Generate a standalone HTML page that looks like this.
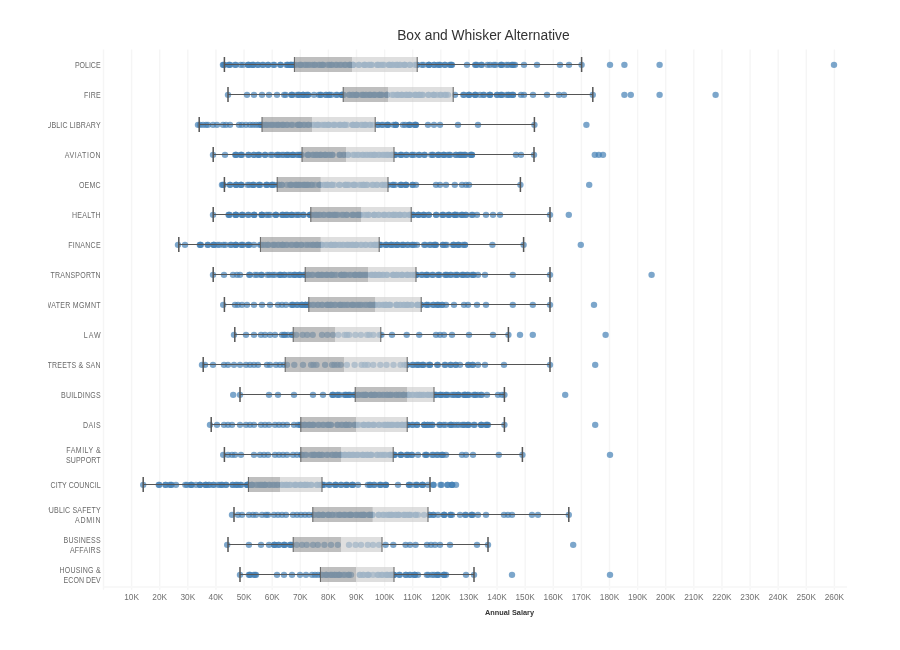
<!DOCTYPE html>
<html><head><meta charset="utf-8"><style>
html,body{margin:0;padding:0;background:#fff;width:900px;height:650px;overflow:hidden}
svg{display:block;will-change:transform}
text{font-family:"Liberation Sans",sans-serif}
.tk{font-size:8.3px;fill:#707070;text-anchor:middle}
.lb{font-size:8.8px;fill:#6a6a6a;text-anchor:end}
.wl{stroke:#555;stroke-width:1.2}
.cap{stroke:#555;stroke-width:1.5}
.be{stroke:#5e5e5e;stroke-width:1}
.ttl{font-size:13.8px;fill:#333}
.ax{font-size:8px;fill:#333;font-weight:bold}
</style></head><body>
<svg width="900" height="650" viewBox="0 0 900 650">
<defs><clipPath id="lc"><rect x="48" y="0" width="60" height="650"/></clipPath></defs>
<text x="483.4" y="40.1" class="ttl" text-anchor="middle">Box and Whisker Alternative</text>
<text x="509.5" y="614.7" class="ax" text-anchor="middle" textLength="49" lengthAdjust="spacingAndGlyphs">Annual Salary</text>
<g clip-path="url(#lc)"><g transform="translate(100.6,0) scale(0.8,1)"><text x="0" y="67.6" class="lb" textLength="32.12" lengthAdjust="spacing">POLICE</text><text x="0" y="97.6" class="lb" textLength="20.75" lengthAdjust="spacing">FIRE</text><text x="0" y="127.6" class="lb" textLength="74.12" lengthAdjust="spacing">PUBLIC LIBRARY</text><text x="0" y="157.6" class="lb" textLength="44.75" lengthAdjust="spacing">AVIATION</text><text x="0" y="187.6" class="lb" textLength="27.13" lengthAdjust="spacing">OEMC</text><text x="0" y="217.6" class="lb" textLength="35.88" lengthAdjust="spacing">HEALTH</text><text x="0" y="247.6" class="lb" textLength="40.5" lengthAdjust="spacing">FINANCE</text><text x="0" y="277.6" class="lb" textLength="62.62" lengthAdjust="spacing">TRANSPORTN</text><text x="0" y="307.6" class="lb" textLength="70.12" lengthAdjust="spacing">WATER MGMNT</text><text x="0" y="337.6" class="lb" textLength="21" lengthAdjust="spacing">LAW</text><text x="0" y="367.6" class="lb" textLength="72.62" lengthAdjust="spacing">STREETS &amp; SAN</text><text x="0" y="397.6" class="lb" textLength="49.5" lengthAdjust="spacing">BUILDINGS</text><text x="0" y="427.6" class="lb" textLength="22" lengthAdjust="spacing">DAIS</text><text x="0" y="453" class="lb" textLength="42.88" lengthAdjust="spacing">FAMILY &amp;</text><text x="0" y="463" class="lb" textLength="43.25" lengthAdjust="spacing">SUPPORT</text><text x="0" y="487.6" class="lb" textLength="62.62" lengthAdjust="spacing">CITY COUNCIL</text><text x="0" y="513" class="lb" textLength="70.75" lengthAdjust="spacing">PUBLIC SAFETY</text><text x="0" y="523" class="lb" textLength="31.88" lengthAdjust="spacing">ADMIN</text><text x="0" y="543" class="lb" textLength="46.25" lengthAdjust="spacing">BUSINESS</text><text x="0" y="553" class="lb" textLength="38.38" lengthAdjust="spacing">AFFAIRS</text><text x="0" y="573" class="lb" textLength="51.5" lengthAdjust="spacing">HOUSING &amp;</text><text x="0" y="583" class="lb" textLength="46.25" lengthAdjust="spacing">ECON DEV</text></g></g>
<line x1="103.5" y1="49.5" x2="103.5" y2="589.7" stroke="#f5f5f5" stroke-width="1.4"/>
<line x1="131.61" y1="49.5" x2="131.61" y2="589.7" stroke="#f5f5f5" stroke-width="1.4"/>
<line x1="159.72" y1="49.5" x2="159.72" y2="589.7" stroke="#f5f5f5" stroke-width="1.4"/>
<line x1="187.83" y1="49.5" x2="187.83" y2="589.7" stroke="#f5f5f5" stroke-width="1.4"/>
<line x1="215.95" y1="49.5" x2="215.95" y2="589.7" stroke="#f5f5f5" stroke-width="1.4"/>
<line x1="244.06" y1="49.5" x2="244.06" y2="589.7" stroke="#f5f5f5" stroke-width="1.4"/>
<line x1="272.17" y1="49.5" x2="272.17" y2="589.7" stroke="#f5f5f5" stroke-width="1.4"/>
<line x1="300.28" y1="49.5" x2="300.28" y2="589.7" stroke="#f5f5f5" stroke-width="1.4"/>
<line x1="328.39" y1="49.5" x2="328.39" y2="589.7" stroke="#f5f5f5" stroke-width="1.4"/>
<line x1="356.5" y1="49.5" x2="356.5" y2="589.7" stroke="#f5f5f5" stroke-width="1.4"/>
<line x1="384.62" y1="49.5" x2="384.62" y2="589.7" stroke="#f5f5f5" stroke-width="1.4"/>
<line x1="412.73" y1="49.5" x2="412.73" y2="589.7" stroke="#f5f5f5" stroke-width="1.4"/>
<line x1="440.84" y1="49.5" x2="440.84" y2="589.7" stroke="#f5f5f5" stroke-width="1.4"/>
<line x1="468.95" y1="49.5" x2="468.95" y2="589.7" stroke="#f5f5f5" stroke-width="1.4"/>
<line x1="497.06" y1="49.5" x2="497.06" y2="589.7" stroke="#f5f5f5" stroke-width="1.4"/>
<line x1="525.17" y1="49.5" x2="525.17" y2="589.7" stroke="#f5f5f5" stroke-width="1.4"/>
<line x1="553.28" y1="49.5" x2="553.28" y2="589.7" stroke="#f5f5f5" stroke-width="1.4"/>
<line x1="581.4" y1="49.5" x2="581.4" y2="589.7" stroke="#f5f5f5" stroke-width="1.4"/>
<line x1="609.51" y1="49.5" x2="609.51" y2="589.7" stroke="#f5f5f5" stroke-width="1.4"/>
<line x1="637.62" y1="49.5" x2="637.62" y2="589.7" stroke="#f5f5f5" stroke-width="1.4"/>
<line x1="665.73" y1="49.5" x2="665.73" y2="589.7" stroke="#f5f5f5" stroke-width="1.4"/>
<line x1="693.84" y1="49.5" x2="693.84" y2="589.7" stroke="#f5f5f5" stroke-width="1.4"/>
<line x1="721.95" y1="49.5" x2="721.95" y2="589.7" stroke="#f5f5f5" stroke-width="1.4"/>
<line x1="750.07" y1="49.5" x2="750.07" y2="589.7" stroke="#f5f5f5" stroke-width="1.4"/>
<line x1="778.18" y1="49.5" x2="778.18" y2="589.7" stroke="#f5f5f5" stroke-width="1.4"/>
<line x1="806.29" y1="49.5" x2="806.29" y2="589.7" stroke="#f5f5f5" stroke-width="1.4"/>
<line x1="834.4" y1="49.5" x2="834.4" y2="589.7" stroke="#f5f5f5" stroke-width="1.4"/>
<line x1="103.5" y1="586.9" x2="846.9" y2="586.9" stroke="#f8f8f8" stroke-width="2"/>
<text x="131.61" y="600.3" class="tk">10K</text>
<text x="159.72" y="600.3" class="tk">20K</text>
<text x="187.83" y="600.3" class="tk">30K</text>
<text x="215.95" y="600.3" class="tk">40K</text>
<text x="244.06" y="600.3" class="tk">50K</text>
<text x="272.17" y="600.3" class="tk">60K</text>
<text x="300.28" y="600.3" class="tk">70K</text>
<text x="328.39" y="600.3" class="tk">80K</text>
<text x="356.5" y="600.3" class="tk">90K</text>
<text x="384.62" y="600.3" class="tk">100K</text>
<text x="412.73" y="600.3" class="tk">110K</text>
<text x="440.84" y="600.3" class="tk">120K</text>
<text x="468.95" y="600.3" class="tk">130K</text>
<text x="497.06" y="600.3" class="tk">140K</text>
<text x="525.17" y="600.3" class="tk">150K</text>
<text x="553.28" y="600.3" class="tk">160K</text>
<text x="581.4" y="600.3" class="tk">170K</text>
<text x="609.51" y="600.3" class="tk">180K</text>
<text x="637.62" y="600.3" class="tk">190K</text>
<text x="665.73" y="600.3" class="tk">200K</text>
<text x="693.84" y="600.3" class="tk">210K</text>
<text x="721.95" y="600.3" class="tk">220K</text>
<text x="750.07" y="600.3" class="tk">230K</text>
<text x="778.18" y="600.3" class="tk">240K</text>
<text x="806.29" y="600.3" class="tk">250K</text>
<text x="834.4" y="600.3" class="tk">260K</text>
<g fill="#4580b5" fill-opacity="0.7"><circle cx="467" cy="64.85" r="3.2"/><circle cx="524" cy="64.85" r="3.2"/><circle cx="537" cy="64.85" r="3.2"/><circle cx="560" cy="64.85" r="3.2"/><circle cx="569" cy="64.85" r="3.2"/><circle cx="581.6" cy="64.85" r="3.2"/><circle cx="610" cy="64.85" r="3.2"/><circle cx="624.4" cy="64.85" r="3.2"/><circle cx="659.6" cy="64.85" r="3.2"/><circle cx="834" cy="64.85" r="3.2"/><circle cx="224.44" cy="64.85" r="3.2"/><circle cx="222.96" cy="64.85" r="3.2"/><circle cx="223.62" cy="64.85" r="3.2"/><circle cx="228.71" cy="64.85" r="3.2"/><circle cx="230.12" cy="64.85" r="3.2"/><circle cx="229.32" cy="64.85" r="3.2"/><circle cx="235.86" cy="64.85" r="3.2"/><circle cx="235.04" cy="64.85" r="3.2"/><circle cx="240.69" cy="64.85" r="3.2"/><circle cx="243.12" cy="64.85" r="3.2"/><circle cx="248.88" cy="64.85" r="3.2"/><circle cx="248.15" cy="64.85" r="3.2"/><circle cx="248.1" cy="64.85" r="3.2"/><circle cx="253.17" cy="64.85" r="3.2"/><circle cx="253.31" cy="64.85" r="3.2"/><circle cx="251.88" cy="64.85" r="3.2"/><circle cx="257.83" cy="64.85" r="3.2"/><circle cx="257.91" cy="64.85" r="3.2"/><circle cx="263.33" cy="64.85" r="3.2"/><circle cx="262.34" cy="64.85" r="3.2"/><circle cx="267.97" cy="64.85" r="3.2"/><circle cx="268.23" cy="64.85" r="3.2"/><circle cx="273.37" cy="64.85" r="3.2"/><circle cx="274.38" cy="64.85" r="3.2"/><circle cx="280.27" cy="64.85" r="3.2"/><circle cx="280.7" cy="64.85" r="3.2"/><circle cx="286.44" cy="64.85" r="3.2"/><circle cx="287.69" cy="64.85" r="3.2"/><circle cx="287.7" cy="64.85" r="3.2"/><circle cx="291.55" cy="64.85" r="3.2"/><circle cx="290.05" cy="64.85" r="3.2"/><circle cx="290.61" cy="64.85" r="3.2"/><circle cx="292" cy="64.85" r="3.2"/><circle cx="294.03" cy="64.85" r="3.2"/><circle cx="296.26" cy="64.85" r="3.2"/><circle cx="294.05" cy="64.85" r="3.2"/><circle cx="301.04" cy="64.85" r="3.2"/><circle cx="299.57" cy="64.85" r="3.2"/><circle cx="300.67" cy="64.85" r="3.2"/><circle cx="305.93" cy="64.85" r="3.2"/><circle cx="304.63" cy="64.85" r="3.2"/><circle cx="309.66" cy="64.85" r="3.2"/><circle cx="307.86" cy="64.85" r="3.2"/><circle cx="314.6" cy="64.85" r="3.2"/><circle cx="312.54" cy="64.85" r="3.2"/><circle cx="314.81" cy="64.85" r="3.2"/><circle cx="318.7" cy="64.85" r="3.2"/><circle cx="319.9" cy="64.85" r="3.2"/><circle cx="323.22" cy="64.85" r="3.2"/><circle cx="321.93" cy="64.85" r="3.2"/><circle cx="322.64" cy="64.85" r="3.2"/><circle cx="329.4" cy="64.85" r="3.2"/><circle cx="327.68" cy="64.85" r="3.2"/><circle cx="331.6" cy="64.85" r="3.2"/><circle cx="331.69" cy="64.85" r="3.2"/><circle cx="336.83" cy="64.85" r="3.2"/><circle cx="335.65" cy="64.85" r="3.2"/><circle cx="339.72" cy="64.85" r="3.2"/><circle cx="341.3" cy="64.85" r="3.2"/><circle cx="344.87" cy="64.85" r="3.2"/><circle cx="345.38" cy="64.85" r="3.2"/><circle cx="350.19" cy="64.85" r="3.2"/><circle cx="350.21" cy="64.85" r="3.2"/><circle cx="349.22" cy="64.85" r="3.2"/><circle cx="352.99" cy="64.85" r="3.2"/><circle cx="352.83" cy="64.85" r="3.2"/><circle cx="353.08" cy="64.85" r="3.2"/><circle cx="358.62" cy="64.85" r="3.2"/><circle cx="359.13" cy="64.85" r="3.2"/><circle cx="365" cy="64.85" r="3.2"/><circle cx="363.99" cy="64.85" r="3.2"/><circle cx="364.72" cy="64.85" r="3.2"/><circle cx="369.86" cy="64.85" r="3.2"/><circle cx="368.52" cy="64.85" r="3.2"/><circle cx="371.38" cy="64.85" r="3.2"/><circle cx="371.6" cy="64.85" r="3.2"/><circle cx="377.14" cy="64.85" r="3.2"/><circle cx="378.72" cy="64.85" r="3.2"/><circle cx="377.47" cy="64.85" r="3.2"/><circle cx="381" cy="64.85" r="3.2"/><circle cx="382.8" cy="64.85" r="3.2"/><circle cx="384" cy="64.85" r="3.2"/><circle cx="389.03" cy="64.85" r="3.2"/><circle cx="388.95" cy="64.85" r="3.2"/><circle cx="390" cy="64.85" r="3.2"/><circle cx="392.27" cy="64.85" r="3.2"/><circle cx="392.93" cy="64.85" r="3.2"/><circle cx="395.7" cy="64.85" r="3.2"/><circle cx="397.25" cy="64.85" r="3.2"/><circle cx="397.33" cy="64.85" r="3.2"/><circle cx="399.83" cy="64.85" r="3.2"/><circle cx="400.11" cy="64.85" r="3.2"/><circle cx="404.47" cy="64.85" r="3.2"/><circle cx="404.83" cy="64.85" r="3.2"/><circle cx="404.48" cy="64.85" r="3.2"/><circle cx="410.14" cy="64.85" r="3.2"/><circle cx="409.59" cy="64.85" r="3.2"/><circle cx="415" cy="64.85" r="3.2"/><circle cx="416.6" cy="64.85" r="3.2"/><circle cx="417.11" cy="64.85" r="3.2"/><circle cx="423.47" cy="64.85" r="3.2"/><circle cx="421.88" cy="64.85" r="3.2"/><circle cx="429.02" cy="64.85" r="3.2"/><circle cx="429" cy="64.85" r="3.2"/><circle cx="428.61" cy="64.85" r="3.2"/><circle cx="434.18" cy="64.85" r="3.2"/><circle cx="434.1" cy="64.85" r="3.2"/><circle cx="440.16" cy="64.85" r="3.2"/><circle cx="439.42" cy="64.85" r="3.2"/><circle cx="437.88" cy="64.85" r="3.2"/><circle cx="445" cy="64.85" r="3.2"/><circle cx="444.8" cy="64.85" r="3.2"/><circle cx="450.88" cy="64.85" r="3.2"/><circle cx="449.69" cy="64.85" r="3.2"/><circle cx="451.31" cy="64.85" r="3.2"/><circle cx="452" cy="64.85" r="3.2"/><circle cx="475.86" cy="64.85" r="3.2"/><circle cx="475.19" cy="64.85" r="3.2"/><circle cx="476.95" cy="64.85" r="3.2"/><circle cx="481.23" cy="64.85" r="3.2"/><circle cx="481.76" cy="64.85" r="3.2"/><circle cx="487.56" cy="64.85" r="3.2"/><circle cx="490.05" cy="64.85" r="3.2"/><circle cx="495.66" cy="64.85" r="3.2"/><circle cx="493.89" cy="64.85" r="3.2"/><circle cx="500.67" cy="64.85" r="3.2"/><circle cx="501.7" cy="64.85" r="3.2"/><circle cx="501.7" cy="64.85" r="3.2"/><circle cx="506.43" cy="64.85" r="3.2"/><circle cx="508.39" cy="64.85" r="3.2"/><circle cx="512.31" cy="64.85" r="3.2"/><circle cx="513.6" cy="64.85" r="3.2"/><circle cx="511.94" cy="64.85" r="3.2"/><circle cx="515" cy="64.85" r="3.2"/></g>
<line x1="224.4" y1="64.5" x2="294.4" y2="64.5" class="wl"/>
<line x1="417.2" y1="64.5" x2="581.6" y2="64.5" class="wl"/>
<line x1="224.4" y1="57" x2="224.4" y2="72" class="cap"/>
<line x1="581.6" y1="57" x2="581.6" y2="72" class="cap"/>
<rect x="294.4" y="57" width="57.6" height="15" fill="#999" fill-opacity="0.63"/>
<rect x="352" y="57" width="65.2" height="15" fill="#cfcfcf" fill-opacity="0.66"/>
<line x1="294.4" y1="57" x2="294.4" y2="72" class="be"/>
<line x1="417.2" y1="57" x2="417.2" y2="72" class="be"/>
<g fill="#4580b5" fill-opacity="0.7"><circle cx="228" cy="94.85" r="3.2"/><circle cx="247" cy="94.85" r="3.2"/><circle cx="254" cy="94.85" r="3.2"/><circle cx="262" cy="94.85" r="3.2"/><circle cx="269" cy="94.85" r="3.2"/><circle cx="277" cy="94.85" r="3.2"/><circle cx="314" cy="94.85" r="3.2"/><circle cx="455" cy="94.85" r="3.2"/><circle cx="521" cy="94.85" r="3.2"/><circle cx="524" cy="94.85" r="3.2"/><circle cx="533" cy="94.85" r="3.2"/><circle cx="547" cy="94.85" r="3.2"/><circle cx="559" cy="94.85" r="3.2"/><circle cx="564" cy="94.85" r="3.2"/><circle cx="592.8" cy="94.85" r="3.2"/><circle cx="624.4" cy="94.85" r="3.2"/><circle cx="630.8" cy="94.85" r="3.2"/><circle cx="659.6" cy="94.85" r="3.2"/><circle cx="715.6" cy="94.85" r="3.2"/><circle cx="285.68" cy="94.85" r="3.2"/><circle cx="284.21" cy="94.85" r="3.2"/><circle cx="292.61" cy="94.85" r="3.2"/><circle cx="291.62" cy="94.85" r="3.2"/><circle cx="291.54" cy="94.85" r="3.2"/><circle cx="298.72" cy="94.85" r="3.2"/><circle cx="297.2" cy="94.85" r="3.2"/><circle cx="298.97" cy="94.85" r="3.2"/><circle cx="303.12" cy="94.85" r="3.2"/><circle cx="302.97" cy="94.85" r="3.2"/><circle cx="303.18" cy="94.85" r="3.2"/><circle cx="306.28" cy="94.85" r="3.2"/><circle cx="308" cy="94.85" r="3.2"/><circle cx="308" cy="94.85" r="3.2"/><circle cx="320.49" cy="94.85" r="3.2"/><circle cx="318.96" cy="94.85" r="3.2"/><circle cx="320.99" cy="94.85" r="3.2"/><circle cx="325.7" cy="94.85" r="3.2"/><circle cx="326.35" cy="94.85" r="3.2"/><circle cx="329.44" cy="94.85" r="3.2"/><circle cx="329.1" cy="94.85" r="3.2"/><circle cx="331.28" cy="94.85" r="3.2"/><circle cx="336.16" cy="94.85" r="3.2"/><circle cx="337.19" cy="94.85" r="3.2"/><circle cx="341.77" cy="94.85" r="3.2"/><circle cx="342" cy="94.85" r="3.2"/><circle cx="342" cy="94.85" r="3.2"/><circle cx="342.85" cy="94.85" r="3.2"/><circle cx="343.83" cy="94.85" r="3.2"/><circle cx="349.65" cy="94.85" r="3.2"/><circle cx="349.24" cy="94.85" r="3.2"/><circle cx="352.41" cy="94.85" r="3.2"/><circle cx="353.34" cy="94.85" r="3.2"/><circle cx="356.38" cy="94.85" r="3.2"/><circle cx="356.57" cy="94.85" r="3.2"/><circle cx="356.55" cy="94.85" r="3.2"/><circle cx="361.36" cy="94.85" r="3.2"/><circle cx="363.27" cy="94.85" r="3.2"/><circle cx="362.91" cy="94.85" r="3.2"/><circle cx="365.51" cy="94.85" r="3.2"/><circle cx="366.41" cy="94.85" r="3.2"/><circle cx="369.07" cy="94.85" r="3.2"/><circle cx="370.38" cy="94.85" r="3.2"/><circle cx="370.16" cy="94.85" r="3.2"/><circle cx="373.89" cy="94.85" r="3.2"/><circle cx="375.58" cy="94.85" r="3.2"/><circle cx="374.1" cy="94.85" r="3.2"/><circle cx="379.35" cy="94.85" r="3.2"/><circle cx="379.64" cy="94.85" r="3.2"/><circle cx="379.88" cy="94.85" r="3.2"/><circle cx="381.46" cy="94.85" r="3.2"/><circle cx="381.83" cy="94.85" r="3.2"/><circle cx="386.84" cy="94.85" r="3.2"/><circle cx="386.97" cy="94.85" r="3.2"/><circle cx="386.92" cy="94.85" r="3.2"/><circle cx="393.63" cy="94.85" r="3.2"/><circle cx="392.07" cy="94.85" r="3.2"/><circle cx="397.81" cy="94.85" r="3.2"/><circle cx="397.93" cy="94.85" r="3.2"/><circle cx="396.75" cy="94.85" r="3.2"/><circle cx="402.08" cy="94.85" r="3.2"/><circle cx="401.35" cy="94.85" r="3.2"/><circle cx="401.77" cy="94.85" r="3.2"/><circle cx="406.32" cy="94.85" r="3.2"/><circle cx="405.67" cy="94.85" r="3.2"/><circle cx="407" cy="94.85" r="3.2"/><circle cx="409.09" cy="94.85" r="3.2"/><circle cx="410.25" cy="94.85" r="3.2"/><circle cx="409.56" cy="94.85" r="3.2"/><circle cx="414.84" cy="94.85" r="3.2"/><circle cx="415.32" cy="94.85" r="3.2"/><circle cx="416.09" cy="94.85" r="3.2"/><circle cx="418.89" cy="94.85" r="3.2"/><circle cx="419.21" cy="94.85" r="3.2"/><circle cx="420.02" cy="94.85" r="3.2"/><circle cx="422.84" cy="94.85" r="3.2"/><circle cx="422.03" cy="94.85" r="3.2"/><circle cx="428.57" cy="94.85" r="3.2"/><circle cx="428.54" cy="94.85" r="3.2"/><circle cx="433.5" cy="94.85" r="3.2"/><circle cx="433.95" cy="94.85" r="3.2"/><circle cx="433.63" cy="94.85" r="3.2"/><circle cx="437" cy="94.85" r="3.2"/><circle cx="441.04" cy="94.85" r="3.2"/><circle cx="440.2" cy="94.85" r="3.2"/><circle cx="445.84" cy="94.85" r="3.2"/><circle cx="444.52" cy="94.85" r="3.2"/><circle cx="448" cy="94.85" r="3.2"/><circle cx="464" cy="94.85" r="3.2"/><circle cx="463.29" cy="94.85" r="3.2"/><circle cx="468.69" cy="94.85" r="3.2"/><circle cx="469.46" cy="94.85" r="3.2"/><circle cx="468.86" cy="94.85" r="3.2"/><circle cx="475.11" cy="94.85" r="3.2"/><circle cx="475.65" cy="94.85" r="3.2"/><circle cx="474.96" cy="94.85" r="3.2"/><circle cx="480" cy="94.85" r="3.2"/><circle cx="483.27" cy="94.85" r="3.2"/><circle cx="484.08" cy="94.85" r="3.2"/><circle cx="490.34" cy="94.85" r="3.2"/><circle cx="489.75" cy="94.85" r="3.2"/><circle cx="489.55" cy="94.85" r="3.2"/><circle cx="497.13" cy="94.85" r="3.2"/><circle cx="497.1" cy="94.85" r="3.2"/><circle cx="500.69" cy="94.85" r="3.2"/><circle cx="502.1" cy="94.85" r="3.2"/><circle cx="501.43" cy="94.85" r="3.2"/><circle cx="508.81" cy="94.85" r="3.2"/><circle cx="506.63" cy="94.85" r="3.2"/><circle cx="508.25" cy="94.85" r="3.2"/><circle cx="512.98" cy="94.85" r="3.2"/><circle cx="511.49" cy="94.85" r="3.2"/><circle cx="513" cy="94.85" r="3.2"/></g>
<line x1="228" y1="94.5" x2="343.2" y2="94.5" class="wl"/>
<line x1="453.2" y1="94.5" x2="592.8" y2="94.5" class="wl"/>
<line x1="228" y1="87" x2="228" y2="102" class="cap"/>
<line x1="592.8" y1="87" x2="592.8" y2="102" class="cap"/>
<rect x="343.2" y="87" width="44.8" height="15" fill="#999" fill-opacity="0.63"/>
<rect x="388" y="87" width="65.2" height="15" fill="#cfcfcf" fill-opacity="0.66"/>
<line x1="343.2" y1="87" x2="343.2" y2="102" class="be"/>
<line x1="453.2" y1="87" x2="453.2" y2="102" class="be"/>
<g fill="#4580b5" fill-opacity="0.7"><circle cx="198" cy="124.85" r="3.2"/><circle cx="200" cy="124.85" r="3.2"/><circle cx="203" cy="124.85" r="3.2"/><circle cx="206" cy="124.85" r="3.2"/><circle cx="208" cy="124.85" r="3.2"/><circle cx="213" cy="124.85" r="3.2"/><circle cx="217" cy="124.85" r="3.2"/><circle cx="223" cy="124.85" r="3.2"/><circle cx="226" cy="124.85" r="3.2"/><circle cx="230" cy="124.85" r="3.2"/><circle cx="239" cy="124.85" r="3.2"/><circle cx="242" cy="124.85" r="3.2"/><circle cx="246" cy="124.85" r="3.2"/><circle cx="250" cy="124.85" r="3.2"/><circle cx="253" cy="124.85" r="3.2"/><circle cx="256" cy="124.85" r="3.2"/><circle cx="259" cy="124.85" r="3.2"/><circle cx="428" cy="124.85" r="3.2"/><circle cx="434" cy="124.85" r="3.2"/><circle cx="440" cy="124.85" r="3.2"/><circle cx="458" cy="124.85" r="3.2"/><circle cx="478" cy="124.85" r="3.2"/><circle cx="534.4" cy="124.85" r="3.2"/><circle cx="586.4" cy="124.85" r="3.2"/><circle cx="263.04" cy="124.85" r="3.2"/><circle cx="261.07" cy="124.85" r="3.2"/><circle cx="261.42" cy="124.85" r="3.2"/><circle cx="266.29" cy="124.85" r="3.2"/><circle cx="265.59" cy="124.85" r="3.2"/><circle cx="270.64" cy="124.85" r="3.2"/><circle cx="268.16" cy="124.85" r="3.2"/><circle cx="273.57" cy="124.85" r="3.2"/><circle cx="272.03" cy="124.85" r="3.2"/><circle cx="276.25" cy="124.85" r="3.2"/><circle cx="278.27" cy="124.85" r="3.2"/><circle cx="278.18" cy="124.85" r="3.2"/><circle cx="283.03" cy="124.85" r="3.2"/><circle cx="283.23" cy="124.85" r="3.2"/><circle cx="281.6" cy="124.85" r="3.2"/><circle cx="287.45" cy="124.85" r="3.2"/><circle cx="286.79" cy="124.85" r="3.2"/><circle cx="292.7" cy="124.85" r="3.2"/><circle cx="291.33" cy="124.85" r="3.2"/><circle cx="297.71" cy="124.85" r="3.2"/><circle cx="298.04" cy="124.85" r="3.2"/><circle cx="299.48" cy="124.85" r="3.2"/><circle cx="299.43" cy="124.85" r="3.2"/><circle cx="300.01" cy="124.85" r="3.2"/><circle cx="303.33" cy="124.85" r="3.2"/><circle cx="304.81" cy="124.85" r="3.2"/><circle cx="308.22" cy="124.85" r="3.2"/><circle cx="308.62" cy="124.85" r="3.2"/><circle cx="312.57" cy="124.85" r="3.2"/><circle cx="314.36" cy="124.85" r="3.2"/><circle cx="318.78" cy="124.85" r="3.2"/><circle cx="317.47" cy="124.85" r="3.2"/><circle cx="317.26" cy="124.85" r="3.2"/><circle cx="322" cy="124.85" r="3.2"/><circle cx="325.27" cy="124.85" r="3.2"/><circle cx="324.09" cy="124.85" r="3.2"/><circle cx="328.45" cy="124.85" r="3.2"/><circle cx="328.81" cy="124.85" r="3.2"/><circle cx="328.24" cy="124.85" r="3.2"/><circle cx="333.1" cy="124.85" r="3.2"/><circle cx="334.13" cy="124.85" r="3.2"/><circle cx="335" cy="124.85" r="3.2"/><circle cx="339.04" cy="124.85" r="3.2"/><circle cx="340.37" cy="124.85" r="3.2"/><circle cx="340.38" cy="124.85" r="3.2"/><circle cx="344.18" cy="124.85" r="3.2"/><circle cx="344.44" cy="124.85" r="3.2"/><circle cx="344.93" cy="124.85" r="3.2"/><circle cx="347" cy="124.85" r="3.2"/><circle cx="352.89" cy="124.85" r="3.2"/><circle cx="353.21" cy="124.85" r="3.2"/><circle cx="352.53" cy="124.85" r="3.2"/><circle cx="356.72" cy="124.85" r="3.2"/><circle cx="356.54" cy="124.85" r="3.2"/><circle cx="356.89" cy="124.85" r="3.2"/><circle cx="361.03" cy="124.85" r="3.2"/><circle cx="362.34" cy="124.85" r="3.2"/><circle cx="365.78" cy="124.85" r="3.2"/><circle cx="364.46" cy="124.85" r="3.2"/><circle cx="365.43" cy="124.85" r="3.2"/><circle cx="369.77" cy="124.85" r="3.2"/><circle cx="370.19" cy="124.85" r="3.2"/><circle cx="373" cy="124.85" r="3.2"/><circle cx="377.52" cy="124.85" r="3.2"/><circle cx="378.08" cy="124.85" r="3.2"/><circle cx="383" cy="124.85" r="3.2"/><circle cx="381.68" cy="124.85" r="3.2"/><circle cx="387.47" cy="124.85" r="3.2"/><circle cx="387.23" cy="124.85" r="3.2"/><circle cx="388.36" cy="124.85" r="3.2"/><circle cx="393.52" cy="124.85" r="3.2"/><circle cx="395.53" cy="124.85" r="3.2"/><circle cx="395.78" cy="124.85" r="3.2"/><circle cx="396" cy="124.85" r="3.2"/><circle cx="402.96" cy="124.85" r="3.2"/><circle cx="405.17" cy="124.85" r="3.2"/><circle cx="409.46" cy="124.85" r="3.2"/><circle cx="410.16" cy="124.85" r="3.2"/><circle cx="408.88" cy="124.85" r="3.2"/><circle cx="415.66" cy="124.85" r="3.2"/><circle cx="414.63" cy="124.85" r="3.2"/><circle cx="415.24" cy="124.85" r="3.2"/><circle cx="416" cy="124.85" r="3.2"/></g>
<line x1="199.2" y1="124.5" x2="262" y2="124.5" class="wl"/>
<line x1="375.2" y1="124.5" x2="534.4" y2="124.5" class="wl"/>
<line x1="199.2" y1="117" x2="199.2" y2="132" class="cap"/>
<line x1="534.4" y1="117" x2="534.4" y2="132" class="cap"/>
<rect x="262" y="117" width="50" height="15" fill="#999" fill-opacity="0.63"/>
<rect x="312" y="117" width="63.2" height="15" fill="#cfcfcf" fill-opacity="0.66"/>
<line x1="262" y1="117" x2="262" y2="132" class="be"/>
<line x1="375.2" y1="117" x2="375.2" y2="132" class="be"/>
<g fill="#4580b5" fill-opacity="0.7"><circle cx="213" cy="154.85" r="3.2"/><circle cx="225" cy="154.85" r="3.2"/><circle cx="516" cy="154.85" r="3.2"/><circle cx="521" cy="154.85" r="3.2"/><circle cx="534" cy="154.85" r="3.2"/><circle cx="594.8" cy="154.85" r="3.2"/><circle cx="598.8" cy="154.85" r="3.2"/><circle cx="603" cy="154.85" r="3.2"/><circle cx="236.15" cy="154.85" r="3.2"/><circle cx="235.28" cy="154.85" r="3.2"/><circle cx="235.9" cy="154.85" r="3.2"/><circle cx="240.62" cy="154.85" r="3.2"/><circle cx="241.42" cy="154.85" r="3.2"/><circle cx="241.78" cy="154.85" r="3.2"/><circle cx="248.51" cy="154.85" r="3.2"/><circle cx="248.45" cy="154.85" r="3.2"/><circle cx="253.8" cy="154.85" r="3.2"/><circle cx="253.9" cy="154.85" r="3.2"/><circle cx="258.59" cy="154.85" r="3.2"/><circle cx="259.45" cy="154.85" r="3.2"/><circle cx="258" cy="154.85" r="3.2"/><circle cx="264.88" cy="154.85" r="3.2"/><circle cx="265.29" cy="154.85" r="3.2"/><circle cx="270.6" cy="154.85" r="3.2"/><circle cx="272.27" cy="154.85" r="3.2"/><circle cx="277.52" cy="154.85" r="3.2"/><circle cx="278.93" cy="154.85" r="3.2"/><circle cx="277.06" cy="154.85" r="3.2"/><circle cx="283.65" cy="154.85" r="3.2"/><circle cx="282.03" cy="154.85" r="3.2"/><circle cx="287" cy="154.85" r="3.2"/><circle cx="288.76" cy="154.85" r="3.2"/><circle cx="287.05" cy="154.85" r="3.2"/><circle cx="292.26" cy="154.85" r="3.2"/><circle cx="293.2" cy="154.85" r="3.2"/><circle cx="293.01" cy="154.85" r="3.2"/><circle cx="298.41" cy="154.85" r="3.2"/><circle cx="297.09" cy="154.85" r="3.2"/><circle cx="300" cy="154.85" r="3.2"/><circle cx="300.87" cy="154.85" r="3.2"/><circle cx="301.82" cy="154.85" r="3.2"/><circle cx="308.1" cy="154.85" r="3.2"/><circle cx="308.47" cy="154.85" r="3.2"/><circle cx="307.73" cy="154.85" r="3.2"/><circle cx="313.33" cy="154.85" r="3.2"/><circle cx="312.78" cy="154.85" r="3.2"/><circle cx="317.57" cy="154.85" r="3.2"/><circle cx="316.6" cy="154.85" r="3.2"/><circle cx="315.58" cy="154.85" r="3.2"/><circle cx="320.87" cy="154.85" r="3.2"/><circle cx="321.03" cy="154.85" r="3.2"/><circle cx="320.02" cy="154.85" r="3.2"/><circle cx="325.65" cy="154.85" r="3.2"/><circle cx="325" cy="154.85" r="3.2"/><circle cx="324.95" cy="154.85" r="3.2"/><circle cx="329.9" cy="154.85" r="3.2"/><circle cx="328.6" cy="154.85" r="3.2"/><circle cx="332.4" cy="154.85" r="3.2"/><circle cx="332.33" cy="154.85" r="3.2"/><circle cx="339.93" cy="154.85" r="3.2"/><circle cx="339.54" cy="154.85" r="3.2"/><circle cx="343.31" cy="154.85" r="3.2"/><circle cx="344.39" cy="154.85" r="3.2"/><circle cx="348.2" cy="154.85" r="3.2"/><circle cx="347.67" cy="154.85" r="3.2"/><circle cx="354.58" cy="154.85" r="3.2"/><circle cx="353.08" cy="154.85" r="3.2"/><circle cx="358.8" cy="154.85" r="3.2"/><circle cx="357.3" cy="154.85" r="3.2"/><circle cx="363.08" cy="154.85" r="3.2"/><circle cx="362.38" cy="154.85" r="3.2"/><circle cx="365.88" cy="154.85" r="3.2"/><circle cx="367.41" cy="154.85" r="3.2"/><circle cx="369.89" cy="154.85" r="3.2"/><circle cx="371.34" cy="154.85" r="3.2"/><circle cx="374.97" cy="154.85" r="3.2"/><circle cx="373.48" cy="154.85" r="3.2"/><circle cx="374.42" cy="154.85" r="3.2"/><circle cx="379.52" cy="154.85" r="3.2"/><circle cx="378.34" cy="154.85" r="3.2"/><circle cx="384" cy="154.85" r="3.2"/><circle cx="382.58" cy="154.85" r="3.2"/><circle cx="386.27" cy="154.85" r="3.2"/><circle cx="388.66" cy="154.85" r="3.2"/><circle cx="387.57" cy="154.85" r="3.2"/><circle cx="391.62" cy="154.85" r="3.2"/><circle cx="391.67" cy="154.85" r="3.2"/><circle cx="392.48" cy="154.85" r="3.2"/><circle cx="394" cy="154.85" r="3.2"/><circle cx="395.52" cy="154.85" r="3.2"/><circle cx="394.73" cy="154.85" r="3.2"/><circle cx="400.73" cy="154.85" r="3.2"/><circle cx="400.59" cy="154.85" r="3.2"/><circle cx="401.87" cy="154.85" r="3.2"/><circle cx="406.59" cy="154.85" r="3.2"/><circle cx="406.24" cy="154.85" r="3.2"/><circle cx="414.21" cy="154.85" r="3.2"/><circle cx="411.68" cy="154.85" r="3.2"/><circle cx="412.44" cy="154.85" r="3.2"/><circle cx="418.72" cy="154.85" r="3.2"/><circle cx="419.57" cy="154.85" r="3.2"/><circle cx="424.74" cy="154.85" r="3.2"/><circle cx="424.31" cy="154.85" r="3.2"/><circle cx="431.16" cy="154.85" r="3.2"/><circle cx="432.85" cy="154.85" r="3.2"/><circle cx="432.7" cy="154.85" r="3.2"/><circle cx="437.95" cy="154.85" r="3.2"/><circle cx="438.96" cy="154.85" r="3.2"/><circle cx="438.42" cy="154.85" r="3.2"/><circle cx="443.52" cy="154.85" r="3.2"/><circle cx="444.35" cy="154.85" r="3.2"/><circle cx="443.4" cy="154.85" r="3.2"/><circle cx="448" cy="154.85" r="3.2"/><circle cx="450.18" cy="154.85" r="3.2"/><circle cx="449.56" cy="154.85" r="3.2"/><circle cx="456.02" cy="154.85" r="3.2"/><circle cx="455.8" cy="154.85" r="3.2"/><circle cx="460.74" cy="154.85" r="3.2"/><circle cx="460.09" cy="154.85" r="3.2"/><circle cx="459.07" cy="154.85" r="3.2"/><circle cx="462" cy="154.85" r="3.2"/><circle cx="464.98" cy="154.85" r="3.2"/><circle cx="465.35" cy="154.85" r="3.2"/><circle cx="463.73" cy="154.85" r="3.2"/><circle cx="470.86" cy="154.85" r="3.2"/><circle cx="470.7" cy="154.85" r="3.2"/><circle cx="471.91" cy="154.85" r="3.2"/><circle cx="472" cy="154.85" r="3.2"/></g>
<line x1="213.2" y1="154.5" x2="302" y2="154.5" class="wl"/>
<line x1="394" y1="154.5" x2="534" y2="154.5" class="wl"/>
<line x1="213.2" y1="147" x2="213.2" y2="162" class="cap"/>
<line x1="534" y1="147" x2="534" y2="162" class="cap"/>
<rect x="302" y="147" width="44" height="15" fill="#999" fill-opacity="0.63"/>
<rect x="346" y="147" width="48" height="15" fill="#cfcfcf" fill-opacity="0.66"/>
<line x1="302" y1="147" x2="302" y2="162" class="be"/>
<line x1="394" y1="147" x2="394" y2="162" class="be"/>
<g fill="#4580b5" fill-opacity="0.7"><circle cx="436" cy="184.85" r="3.2"/><circle cx="440" cy="184.85" r="3.2"/><circle cx="446" cy="184.85" r="3.2"/><circle cx="454.8" cy="184.85" r="3.2"/><circle cx="462" cy="184.85" r="3.2"/><circle cx="466" cy="184.85" r="3.2"/><circle cx="469" cy="184.85" r="3.2"/><circle cx="520.4" cy="184.85" r="3.2"/><circle cx="589.2" cy="184.85" r="3.2"/><circle cx="221.98" cy="184.85" r="3.2"/><circle cx="223.57" cy="184.85" r="3.2"/><circle cx="223.1" cy="184.85" r="3.2"/><circle cx="229.88" cy="184.85" r="3.2"/><circle cx="230.24" cy="184.85" r="3.2"/><circle cx="236" cy="184.85" r="3.2"/><circle cx="236.13" cy="184.85" r="3.2"/><circle cx="236.17" cy="184.85" r="3.2"/><circle cx="241.01" cy="184.85" r="3.2"/><circle cx="241.45" cy="184.85" r="3.2"/><circle cx="240.85" cy="184.85" r="3.2"/><circle cx="247.52" cy="184.85" r="3.2"/><circle cx="249.29" cy="184.85" r="3.2"/><circle cx="252.51" cy="184.85" r="3.2"/><circle cx="253.54" cy="184.85" r="3.2"/><circle cx="253.68" cy="184.85" r="3.2"/><circle cx="260.2" cy="184.85" r="3.2"/><circle cx="259.4" cy="184.85" r="3.2"/><circle cx="258.8" cy="184.85" r="3.2"/><circle cx="266.21" cy="184.85" r="3.2"/><circle cx="266.62" cy="184.85" r="3.2"/><circle cx="267.33" cy="184.85" r="3.2"/><circle cx="272.54" cy="184.85" r="3.2"/><circle cx="271.71" cy="184.85" r="3.2"/><circle cx="272.3" cy="184.85" r="3.2"/><circle cx="274" cy="184.85" r="3.2"/><circle cx="278.92" cy="184.85" r="3.2"/><circle cx="278.15" cy="184.85" r="3.2"/><circle cx="281.6" cy="184.85" r="3.2"/><circle cx="281.95" cy="184.85" r="3.2"/><circle cx="287" cy="184.85" r="3.2"/><circle cx="291.14" cy="184.85" r="3.2"/><circle cx="291.28" cy="184.85" r="3.2"/><circle cx="290.08" cy="184.85" r="3.2"/><circle cx="296.36" cy="184.85" r="3.2"/><circle cx="296.53" cy="184.85" r="3.2"/><circle cx="295.19" cy="184.85" r="3.2"/><circle cx="300.56" cy="184.85" r="3.2"/><circle cx="299.15" cy="184.85" r="3.2"/><circle cx="298.28" cy="184.85" r="3.2"/><circle cx="303.05" cy="184.85" r="3.2"/><circle cx="304.87" cy="184.85" r="3.2"/><circle cx="304.33" cy="184.85" r="3.2"/><circle cx="308.17" cy="184.85" r="3.2"/><circle cx="307.63" cy="184.85" r="3.2"/><circle cx="306.45" cy="184.85" r="3.2"/><circle cx="312.06" cy="184.85" r="3.2"/><circle cx="311.21" cy="184.85" r="3.2"/><circle cx="315" cy="184.85" r="3.2"/><circle cx="319.93" cy="184.85" r="3.2"/><circle cx="319.65" cy="184.85" r="3.2"/><circle cx="319.57" cy="184.85" r="3.2"/><circle cx="323.68" cy="184.85" r="3.2"/><circle cx="325.33" cy="184.85" r="3.2"/><circle cx="327.76" cy="184.85" r="3.2"/><circle cx="326.98" cy="184.85" r="3.2"/><circle cx="327.62" cy="184.85" r="3.2"/><circle cx="331.9" cy="184.85" r="3.2"/><circle cx="331.93" cy="184.85" r="3.2"/><circle cx="331.72" cy="184.85" r="3.2"/><circle cx="334" cy="184.85" r="3.2"/><circle cx="339.79" cy="184.85" r="3.2"/><circle cx="339.31" cy="184.85" r="3.2"/><circle cx="344.97" cy="184.85" r="3.2"/><circle cx="345.36" cy="184.85" r="3.2"/><circle cx="346.31" cy="184.85" r="3.2"/><circle cx="347.82" cy="184.85" r="3.2"/><circle cx="349.05" cy="184.85" r="3.2"/><circle cx="353.36" cy="184.85" r="3.2"/><circle cx="354.39" cy="184.85" r="3.2"/><circle cx="353.8" cy="184.85" r="3.2"/><circle cx="355" cy="184.85" r="3.2"/><circle cx="359.37" cy="184.85" r="3.2"/><circle cx="361.23" cy="184.85" r="3.2"/><circle cx="364.08" cy="184.85" r="3.2"/><circle cx="363.2" cy="184.85" r="3.2"/><circle cx="363.4" cy="184.85" r="3.2"/><circle cx="366.74" cy="184.85" r="3.2"/><circle cx="367.2" cy="184.85" r="3.2"/><circle cx="373.15" cy="184.85" r="3.2"/><circle cx="372.2" cy="184.85" r="3.2"/><circle cx="377.3" cy="184.85" r="3.2"/><circle cx="376.76" cy="184.85" r="3.2"/><circle cx="382.06" cy="184.85" r="3.2"/><circle cx="382.65" cy="184.85" r="3.2"/><circle cx="385" cy="184.85" r="3.2"/><circle cx="388.28" cy="184.85" r="3.2"/><circle cx="386.88" cy="184.85" r="3.2"/><circle cx="395.11" cy="184.85" r="3.2"/><circle cx="393.35" cy="184.85" r="3.2"/><circle cx="392.65" cy="184.85" r="3.2"/><circle cx="401.59" cy="184.85" r="3.2"/><circle cx="400.52" cy="184.85" r="3.2"/><circle cx="400.96" cy="184.85" r="3.2"/><circle cx="406.16" cy="184.85" r="3.2"/><circle cx="405.68" cy="184.85" r="3.2"/><circle cx="406.03" cy="184.85" r="3.2"/><circle cx="412.46" cy="184.85" r="3.2"/><circle cx="412.68" cy="184.85" r="3.2"/><circle cx="416" cy="184.85" r="3.2"/></g>
<line x1="224.4" y1="184.5" x2="277.2" y2="184.5" class="wl"/>
<line x1="388" y1="184.5" x2="520.4" y2="184.5" class="wl"/>
<line x1="224.4" y1="177" x2="224.4" y2="192" class="cap"/>
<line x1="520.4" y1="177" x2="520.4" y2="192" class="cap"/>
<rect x="277.2" y="177" width="43.6" height="15" fill="#999" fill-opacity="0.63"/>
<rect x="320.8" y="177" width="67.2" height="15" fill="#cfcfcf" fill-opacity="0.66"/>
<line x1="277.2" y1="177" x2="277.2" y2="192" class="be"/>
<line x1="388" y1="177" x2="388" y2="192" class="be"/>
<g fill="#4580b5" fill-opacity="0.7"><circle cx="213" cy="214.85" r="3.2"/><circle cx="486" cy="214.85" r="3.2"/><circle cx="493" cy="214.85" r="3.2"/><circle cx="500" cy="214.85" r="3.2"/><circle cx="550" cy="214.85" r="3.2"/><circle cx="568.8" cy="214.85" r="3.2"/><circle cx="229.75" cy="214.85" r="3.2"/><circle cx="228.74" cy="214.85" r="3.2"/><circle cx="228.77" cy="214.85" r="3.2"/><circle cx="235.49" cy="214.85" r="3.2"/><circle cx="236" cy="214.85" r="3.2"/><circle cx="235.83" cy="214.85" r="3.2"/><circle cx="236" cy="214.85" r="3.2"/><circle cx="242.66" cy="214.85" r="3.2"/><circle cx="242.24" cy="214.85" r="3.2"/><circle cx="241.8" cy="214.85" r="3.2"/><circle cx="248.65" cy="214.85" r="3.2"/><circle cx="248.02" cy="214.85" r="3.2"/><circle cx="254.21" cy="214.85" r="3.2"/><circle cx="254.37" cy="214.85" r="3.2"/><circle cx="253.92" cy="214.85" r="3.2"/><circle cx="261.83" cy="214.85" r="3.2"/><circle cx="261.75" cy="214.85" r="3.2"/><circle cx="261.62" cy="214.85" r="3.2"/><circle cx="262" cy="214.85" r="3.2"/><circle cx="266.39" cy="214.85" r="3.2"/><circle cx="268.12" cy="214.85" r="3.2"/><circle cx="270" cy="214.85" r="3.2"/><circle cx="275.79" cy="214.85" r="3.2"/><circle cx="275.93" cy="214.85" r="3.2"/><circle cx="275.86" cy="214.85" r="3.2"/><circle cx="282.02" cy="214.85" r="3.2"/><circle cx="283.06" cy="214.85" r="3.2"/><circle cx="282.63" cy="214.85" r="3.2"/><circle cx="285.76" cy="214.85" r="3.2"/><circle cx="287.09" cy="214.85" r="3.2"/><circle cx="287.14" cy="214.85" r="3.2"/><circle cx="291.39" cy="214.85" r="3.2"/><circle cx="292.16" cy="214.85" r="3.2"/><circle cx="291.63" cy="214.85" r="3.2"/><circle cx="296" cy="214.85" r="3.2"/><circle cx="298.89" cy="214.85" r="3.2"/><circle cx="297.81" cy="214.85" r="3.2"/><circle cx="303.14" cy="214.85" r="3.2"/><circle cx="303.72" cy="214.85" r="3.2"/><circle cx="310" cy="214.85" r="3.2"/><circle cx="310.12" cy="214.85" r="3.2"/><circle cx="310.13" cy="214.85" r="3.2"/><circle cx="311.37" cy="214.85" r="3.2"/><circle cx="315.71" cy="214.85" r="3.2"/><circle cx="316.96" cy="214.85" r="3.2"/><circle cx="314.55" cy="214.85" r="3.2"/><circle cx="319.03" cy="214.85" r="3.2"/><circle cx="320.04" cy="214.85" r="3.2"/><circle cx="324.03" cy="214.85" r="3.2"/><circle cx="323.59" cy="214.85" r="3.2"/><circle cx="328.17" cy="214.85" r="3.2"/><circle cx="330.08" cy="214.85" r="3.2"/><circle cx="329.37" cy="214.85" r="3.2"/><circle cx="334.79" cy="214.85" r="3.2"/><circle cx="332.7" cy="214.85" r="3.2"/><circle cx="334.43" cy="214.85" r="3.2"/><circle cx="336.22" cy="214.85" r="3.2"/><circle cx="337.7" cy="214.85" r="3.2"/><circle cx="343.36" cy="214.85" r="3.2"/><circle cx="341.8" cy="214.85" r="3.2"/><circle cx="346.8" cy="214.85" r="3.2"/><circle cx="346.69" cy="214.85" r="3.2"/><circle cx="353.27" cy="214.85" r="3.2"/><circle cx="351.97" cy="214.85" r="3.2"/><circle cx="353.16" cy="214.85" r="3.2"/><circle cx="358.41" cy="214.85" r="3.2"/><circle cx="357.19" cy="214.85" r="3.2"/><circle cx="357.93" cy="214.85" r="3.2"/><circle cx="360.18" cy="214.85" r="3.2"/><circle cx="359.9" cy="214.85" r="3.2"/><circle cx="363.84" cy="214.85" r="3.2"/><circle cx="366.25" cy="214.85" r="3.2"/><circle cx="368.36" cy="214.85" r="3.2"/><circle cx="368.83" cy="214.85" r="3.2"/><circle cx="374.15" cy="214.85" r="3.2"/><circle cx="374.07" cy="214.85" r="3.2"/><circle cx="374.42" cy="214.85" r="3.2"/><circle cx="378.78" cy="214.85" r="3.2"/><circle cx="378.74" cy="214.85" r="3.2"/><circle cx="383.36" cy="214.85" r="3.2"/><circle cx="384.77" cy="214.85" r="3.2"/><circle cx="384.37" cy="214.85" r="3.2"/><circle cx="389.13" cy="214.85" r="3.2"/><circle cx="388.95" cy="214.85" r="3.2"/><circle cx="392.99" cy="214.85" r="3.2"/><circle cx="393.54" cy="214.85" r="3.2"/><circle cx="393.52" cy="214.85" r="3.2"/><circle cx="395.18" cy="214.85" r="3.2"/><circle cx="396.23" cy="214.85" r="3.2"/><circle cx="399.43" cy="214.85" r="3.2"/><circle cx="400.12" cy="214.85" r="3.2"/><circle cx="400.06" cy="214.85" r="3.2"/><circle cx="404.71" cy="214.85" r="3.2"/><circle cx="404.46" cy="214.85" r="3.2"/><circle cx="409.27" cy="214.85" r="3.2"/><circle cx="409.64" cy="214.85" r="3.2"/><circle cx="411" cy="214.85" r="3.2"/><circle cx="412.5" cy="214.85" r="3.2"/><circle cx="413.3" cy="214.85" r="3.2"/><circle cx="413.11" cy="214.85" r="3.2"/><circle cx="418.4" cy="214.85" r="3.2"/><circle cx="418.56" cy="214.85" r="3.2"/><circle cx="418.26" cy="214.85" r="3.2"/><circle cx="423.16" cy="214.85" r="3.2"/><circle cx="424.03" cy="214.85" r="3.2"/><circle cx="423.8" cy="214.85" r="3.2"/><circle cx="428.98" cy="214.85" r="3.2"/><circle cx="428.55" cy="214.85" r="3.2"/><circle cx="436.06" cy="214.85" r="3.2"/><circle cx="436.31" cy="214.85" r="3.2"/><circle cx="443.44" cy="214.85" r="3.2"/><circle cx="442.07" cy="214.85" r="3.2"/><circle cx="442.96" cy="214.85" r="3.2"/><circle cx="448.74" cy="214.85" r="3.2"/><circle cx="449.42" cy="214.85" r="3.2"/><circle cx="448.42" cy="214.85" r="3.2"/><circle cx="454.77" cy="214.85" r="3.2"/><circle cx="454.55" cy="214.85" r="3.2"/><circle cx="455" cy="214.85" r="3.2"/><circle cx="455.72" cy="214.85" r="3.2"/><circle cx="457.11" cy="214.85" r="3.2"/><circle cx="461.55" cy="214.85" r="3.2"/><circle cx="461.82" cy="214.85" r="3.2"/><circle cx="462.72" cy="214.85" r="3.2"/><circle cx="465.74" cy="214.85" r="3.2"/><circle cx="466.05" cy="214.85" r="3.2"/><circle cx="472.67" cy="214.85" r="3.2"/><circle cx="471.71" cy="214.85" r="3.2"/><circle cx="477" cy="214.85" r="3.2"/></g>
<line x1="213.2" y1="214.5" x2="310.8" y2="214.5" class="wl"/>
<line x1="411.2" y1="214.5" x2="550" y2="214.5" class="wl"/>
<line x1="213.2" y1="207" x2="213.2" y2="222" class="cap"/>
<line x1="550" y1="207" x2="550" y2="222" class="cap"/>
<rect x="310.8" y="207" width="50.4" height="15" fill="#999" fill-opacity="0.63"/>
<rect x="361.2" y="207" width="50" height="15" fill="#cfcfcf" fill-opacity="0.66"/>
<line x1="310.8" y1="207" x2="310.8" y2="222" class="be"/>
<line x1="411.2" y1="207" x2="411.2" y2="222" class="be"/>
<g fill="#4580b5" fill-opacity="0.7"><circle cx="178" cy="244.85" r="3.2"/><circle cx="185" cy="244.85" r="3.2"/><circle cx="492.4" cy="244.85" r="3.2"/><circle cx="523.6" cy="244.85" r="3.2"/><circle cx="580.8" cy="244.85" r="3.2"/><circle cx="199.85" cy="244.85" r="3.2"/><circle cx="200.85" cy="244.85" r="3.2"/><circle cx="200.23" cy="244.85" r="3.2"/><circle cx="207.64" cy="244.85" r="3.2"/><circle cx="207.98" cy="244.85" r="3.2"/><circle cx="214.03" cy="244.85" r="3.2"/><circle cx="213.9" cy="244.85" r="3.2"/><circle cx="213.43" cy="244.85" r="3.2"/><circle cx="217.66" cy="244.85" r="3.2"/><circle cx="219.51" cy="244.85" r="3.2"/><circle cx="223.4" cy="244.85" r="3.2"/><circle cx="225.34" cy="244.85" r="3.2"/><circle cx="230.51" cy="244.85" r="3.2"/><circle cx="231.27" cy="244.85" r="3.2"/><circle cx="235.77" cy="244.85" r="3.2"/><circle cx="235.71" cy="244.85" r="3.2"/><circle cx="235.84" cy="244.85" r="3.2"/><circle cx="242.9" cy="244.85" r="3.2"/><circle cx="242.08" cy="244.85" r="3.2"/><circle cx="241.09" cy="244.85" r="3.2"/><circle cx="248.26" cy="244.85" r="3.2"/><circle cx="248.19" cy="244.85" r="3.2"/><circle cx="249.43" cy="244.85" r="3.2"/><circle cx="254" cy="244.85" r="3.2"/><circle cx="260.07" cy="244.85" r="3.2"/><circle cx="261.29" cy="244.85" r="3.2"/><circle cx="263.3" cy="244.85" r="3.2"/><circle cx="265.54" cy="244.85" r="3.2"/><circle cx="268.08" cy="244.85" r="3.2"/><circle cx="268.02" cy="244.85" r="3.2"/><circle cx="273.79" cy="244.85" r="3.2"/><circle cx="272.69" cy="244.85" r="3.2"/><circle cx="274.67" cy="244.85" r="3.2"/><circle cx="277.87" cy="244.85" r="3.2"/><circle cx="278.93" cy="244.85" r="3.2"/><circle cx="282.72" cy="244.85" r="3.2"/><circle cx="282.38" cy="244.85" r="3.2"/><circle cx="282.55" cy="244.85" r="3.2"/><circle cx="286.05" cy="244.85" r="3.2"/><circle cx="287.25" cy="244.85" r="3.2"/><circle cx="292.38" cy="244.85" r="3.2"/><circle cx="291.03" cy="244.85" r="3.2"/><circle cx="295.98" cy="244.85" r="3.2"/><circle cx="296.67" cy="244.85" r="3.2"/><circle cx="297.35" cy="244.85" r="3.2"/><circle cx="301.5" cy="244.85" r="3.2"/><circle cx="301.14" cy="244.85" r="3.2"/><circle cx="305.75" cy="244.85" r="3.2"/><circle cx="307.74" cy="244.85" r="3.2"/><circle cx="313" cy="244.85" r="3.2"/><circle cx="310.53" cy="244.85" r="3.2"/><circle cx="313.07" cy="244.85" r="3.2"/><circle cx="317.27" cy="244.85" r="3.2"/><circle cx="316.25" cy="244.85" r="3.2"/><circle cx="317.72" cy="244.85" r="3.2"/><circle cx="320.85" cy="244.85" r="3.2"/><circle cx="321.9" cy="244.85" r="3.2"/><circle cx="321.62" cy="244.85" r="3.2"/><circle cx="325.69" cy="244.85" r="3.2"/><circle cx="327.28" cy="244.85" r="3.2"/><circle cx="331.21" cy="244.85" r="3.2"/><circle cx="331.31" cy="244.85" r="3.2"/><circle cx="330.81" cy="244.85" r="3.2"/><circle cx="333.77" cy="244.85" r="3.2"/><circle cx="335.41" cy="244.85" r="3.2"/><circle cx="335.48" cy="244.85" r="3.2"/><circle cx="340.23" cy="244.85" r="3.2"/><circle cx="338.94" cy="244.85" r="3.2"/><circle cx="342.81" cy="244.85" r="3.2"/><circle cx="343.49" cy="244.85" r="3.2"/><circle cx="347.06" cy="244.85" r="3.2"/><circle cx="347.32" cy="244.85" r="3.2"/><circle cx="349" cy="244.85" r="3.2"/><circle cx="351.11" cy="244.85" r="3.2"/><circle cx="352.79" cy="244.85" r="3.2"/><circle cx="352.81" cy="244.85" r="3.2"/><circle cx="356.28" cy="244.85" r="3.2"/><circle cx="356.07" cy="244.85" r="3.2"/><circle cx="356.22" cy="244.85" r="3.2"/><circle cx="361.7" cy="244.85" r="3.2"/><circle cx="360.54" cy="244.85" r="3.2"/><circle cx="365.46" cy="244.85" r="3.2"/><circle cx="365.88" cy="244.85" r="3.2"/><circle cx="371" cy="244.85" r="3.2"/><circle cx="370.22" cy="244.85" r="3.2"/><circle cx="375.32" cy="244.85" r="3.2"/><circle cx="374.54" cy="244.85" r="3.2"/><circle cx="374.36" cy="244.85" r="3.2"/><circle cx="376.82" cy="244.85" r="3.2"/><circle cx="378.8" cy="244.85" r="3.2"/><circle cx="377.73" cy="244.85" r="3.2"/><circle cx="379" cy="244.85" r="3.2"/><circle cx="381.03" cy="244.85" r="3.2"/><circle cx="379.07" cy="244.85" r="3.2"/><circle cx="379.77" cy="244.85" r="3.2"/><circle cx="386.35" cy="244.85" r="3.2"/><circle cx="385.43" cy="244.85" r="3.2"/><circle cx="386.47" cy="244.85" r="3.2"/><circle cx="391.22" cy="244.85" r="3.2"/><circle cx="390.69" cy="244.85" r="3.2"/><circle cx="391.67" cy="244.85" r="3.2"/><circle cx="394" cy="244.85" r="3.2"/><circle cx="397.03" cy="244.85" r="3.2"/><circle cx="397.23" cy="244.85" r="3.2"/><circle cx="397.36" cy="244.85" r="3.2"/><circle cx="401.67" cy="244.85" r="3.2"/><circle cx="403.28" cy="244.85" r="3.2"/><circle cx="403.17" cy="244.85" r="3.2"/><circle cx="407.72" cy="244.85" r="3.2"/><circle cx="407.72" cy="244.85" r="3.2"/><circle cx="414.23" cy="244.85" r="3.2"/><circle cx="412.1" cy="244.85" r="3.2"/><circle cx="412.54" cy="244.85" r="3.2"/><circle cx="417" cy="244.85" r="3.2"/><circle cx="424.23" cy="244.85" r="3.2"/><circle cx="425.22" cy="244.85" r="3.2"/><circle cx="430.72" cy="244.85" r="3.2"/><circle cx="429.46" cy="244.85" r="3.2"/><circle cx="434" cy="244.85" r="3.2"/><circle cx="436.02" cy="244.85" r="3.2"/><circle cx="434.94" cy="244.85" r="3.2"/><circle cx="435.45" cy="244.85" r="3.2"/><circle cx="442.8" cy="244.85" r="3.2"/><circle cx="442.93" cy="244.85" r="3.2"/><circle cx="445.2" cy="244.85" r="3.2"/><circle cx="446.72" cy="244.85" r="3.2"/><circle cx="453.61" cy="244.85" r="3.2"/><circle cx="453.05" cy="244.85" r="3.2"/><circle cx="454" cy="244.85" r="3.2"/><circle cx="458.51" cy="244.85" r="3.2"/><circle cx="458.83" cy="244.85" r="3.2"/><circle cx="457.83" cy="244.85" r="3.2"/><circle cx="464.82" cy="244.85" r="3.2"/><circle cx="462.92" cy="244.85" r="3.2"/><circle cx="465" cy="244.85" r="3.2"/></g>
<line x1="178.8" y1="244.5" x2="260.4" y2="244.5" class="wl"/>
<line x1="379.2" y1="244.5" x2="523.6" y2="244.5" class="wl"/>
<line x1="178.8" y1="237" x2="178.8" y2="252" class="cap"/>
<line x1="523.6" y1="237" x2="523.6" y2="252" class="cap"/>
<rect x="260.4" y="237" width="60.4" height="15" fill="#999" fill-opacity="0.63"/>
<rect x="320.8" y="237" width="58.4" height="15" fill="#cfcfcf" fill-opacity="0.66"/>
<line x1="260.4" y1="237" x2="260.4" y2="252" class="be"/>
<line x1="379.2" y1="237" x2="379.2" y2="252" class="be"/>
<g fill="#4580b5" fill-opacity="0.7"><circle cx="213" cy="274.85" r="3.2"/><circle cx="224" cy="274.85" r="3.2"/><circle cx="233" cy="274.85" r="3.2"/><circle cx="237" cy="274.85" r="3.2"/><circle cx="240" cy="274.85" r="3.2"/><circle cx="485" cy="274.85" r="3.2"/><circle cx="512.8" cy="274.85" r="3.2"/><circle cx="550" cy="274.85" r="3.2"/><circle cx="651.6" cy="274.85" r="3.2"/><circle cx="249.78" cy="274.85" r="3.2"/><circle cx="249.24" cy="274.85" r="3.2"/><circle cx="255" cy="274.85" r="3.2"/><circle cx="256.96" cy="274.85" r="3.2"/><circle cx="261.66" cy="274.85" r="3.2"/><circle cx="261.24" cy="274.85" r="3.2"/><circle cx="267.35" cy="274.85" r="3.2"/><circle cx="269.42" cy="274.85" r="3.2"/><circle cx="272.68" cy="274.85" r="3.2"/><circle cx="274.75" cy="274.85" r="3.2"/><circle cx="280.9" cy="274.85" r="3.2"/><circle cx="280.13" cy="274.85" r="3.2"/><circle cx="279.21" cy="274.85" r="3.2"/><circle cx="284.38" cy="274.85" r="3.2"/><circle cx="284.36" cy="274.85" r="3.2"/><circle cx="288.75" cy="274.85" r="3.2"/><circle cx="290.74" cy="274.85" r="3.2"/><circle cx="294.16" cy="274.85" r="3.2"/><circle cx="294.53" cy="274.85" r="3.2"/><circle cx="295.64" cy="274.85" r="3.2"/><circle cx="299.34" cy="274.85" r="3.2"/><circle cx="299.39" cy="274.85" r="3.2"/><circle cx="300.21" cy="274.85" r="3.2"/><circle cx="304" cy="274.85" r="3.2"/><circle cx="305.74" cy="274.85" r="3.2"/><circle cx="304.95" cy="274.85" r="3.2"/><circle cx="308.38" cy="274.85" r="3.2"/><circle cx="308.4" cy="274.85" r="3.2"/><circle cx="312.9" cy="274.85" r="3.2"/><circle cx="311.93" cy="274.85" r="3.2"/><circle cx="318.52" cy="274.85" r="3.2"/><circle cx="318.31" cy="274.85" r="3.2"/><circle cx="317.47" cy="274.85" r="3.2"/><circle cx="321.37" cy="274.85" r="3.2"/><circle cx="321.71" cy="274.85" r="3.2"/><circle cx="322.83" cy="274.85" r="3.2"/><circle cx="327.3" cy="274.85" r="3.2"/><circle cx="326.64" cy="274.85" r="3.2"/><circle cx="326.45" cy="274.85" r="3.2"/><circle cx="331.52" cy="274.85" r="3.2"/><circle cx="330.87" cy="274.85" r="3.2"/><circle cx="331.94" cy="274.85" r="3.2"/><circle cx="336.57" cy="274.85" r="3.2"/><circle cx="334.43" cy="274.85" r="3.2"/><circle cx="341.49" cy="274.85" r="3.2"/><circle cx="341.2" cy="274.85" r="3.2"/><circle cx="341.49" cy="274.85" r="3.2"/><circle cx="345.75" cy="274.85" r="3.2"/><circle cx="344.29" cy="274.85" r="3.2"/><circle cx="344.02" cy="274.85" r="3.2"/><circle cx="350.95" cy="274.85" r="3.2"/><circle cx="349.18" cy="274.85" r="3.2"/><circle cx="355.38" cy="274.85" r="3.2"/><circle cx="354.82" cy="274.85" r="3.2"/><circle cx="355.19" cy="274.85" r="3.2"/><circle cx="360.13" cy="274.85" r="3.2"/><circle cx="358.69" cy="274.85" r="3.2"/><circle cx="360.02" cy="274.85" r="3.2"/><circle cx="364.21" cy="274.85" r="3.2"/><circle cx="362.38" cy="274.85" r="3.2"/><circle cx="365.78" cy="274.85" r="3.2"/><circle cx="367.31" cy="274.85" r="3.2"/><circle cx="372.61" cy="274.85" r="3.2"/><circle cx="370.88" cy="274.85" r="3.2"/><circle cx="371.65" cy="274.85" r="3.2"/><circle cx="374.95" cy="274.85" r="3.2"/><circle cx="375.25" cy="274.85" r="3.2"/><circle cx="375.51" cy="274.85" r="3.2"/><circle cx="379.82" cy="274.85" r="3.2"/><circle cx="378.49" cy="274.85" r="3.2"/><circle cx="379.08" cy="274.85" r="3.2"/><circle cx="383.05" cy="274.85" r="3.2"/><circle cx="382.96" cy="274.85" r="3.2"/><circle cx="387.13" cy="274.85" r="3.2"/><circle cx="386.75" cy="274.85" r="3.2"/><circle cx="393.57" cy="274.85" r="3.2"/><circle cx="393.18" cy="274.85" r="3.2"/><circle cx="392.77" cy="274.85" r="3.2"/><circle cx="396.57" cy="274.85" r="3.2"/><circle cx="396.53" cy="274.85" r="3.2"/><circle cx="398.8" cy="274.85" r="3.2"/><circle cx="402.29" cy="274.85" r="3.2"/><circle cx="402.17" cy="274.85" r="3.2"/><circle cx="401.84" cy="274.85" r="3.2"/><circle cx="406.92" cy="274.85" r="3.2"/><circle cx="407.43" cy="274.85" r="3.2"/><circle cx="407.82" cy="274.85" r="3.2"/><circle cx="410.54" cy="274.85" r="3.2"/><circle cx="412.67" cy="274.85" r="3.2"/><circle cx="416" cy="274.85" r="3.2"/><circle cx="415.1" cy="274.85" r="3.2"/><circle cx="416" cy="274.85" r="3.2"/><circle cx="415.57" cy="274.85" r="3.2"/><circle cx="416.53" cy="274.85" r="3.2"/><circle cx="422.41" cy="274.85" r="3.2"/><circle cx="421.35" cy="274.85" r="3.2"/><circle cx="426.44" cy="274.85" r="3.2"/><circle cx="427.74" cy="274.85" r="3.2"/><circle cx="426.45" cy="274.85" r="3.2"/><circle cx="433.04" cy="274.85" r="3.2"/><circle cx="432.17" cy="274.85" r="3.2"/><circle cx="438.08" cy="274.85" r="3.2"/><circle cx="438.53" cy="274.85" r="3.2"/><circle cx="439.64" cy="274.85" r="3.2"/><circle cx="447.14" cy="274.85" r="3.2"/><circle cx="445.24" cy="274.85" r="3.2"/><circle cx="445.85" cy="274.85" r="3.2"/><circle cx="451.1" cy="274.85" r="3.2"/><circle cx="450.33" cy="274.85" r="3.2"/><circle cx="456.94" cy="274.85" r="3.2"/><circle cx="457.19" cy="274.85" r="3.2"/><circle cx="455.15" cy="274.85" r="3.2"/><circle cx="463.65" cy="274.85" r="3.2"/><circle cx="461.97" cy="274.85" r="3.2"/><circle cx="462.75" cy="274.85" r="3.2"/><circle cx="467.12" cy="274.85" r="3.2"/><circle cx="467.64" cy="274.85" r="3.2"/><circle cx="473.53" cy="274.85" r="3.2"/><circle cx="471.85" cy="274.85" r="3.2"/><circle cx="473.28" cy="274.85" r="3.2"/><circle cx="478" cy="274.85" r="3.2"/></g>
<line x1="213.2" y1="274.5" x2="305.2" y2="274.5" class="wl"/>
<line x1="416" y1="274.5" x2="550" y2="274.5" class="wl"/>
<line x1="213.2" y1="267" x2="213.2" y2="282" class="cap"/>
<line x1="550" y1="267" x2="550" y2="282" class="cap"/>
<rect x="305.2" y="267" width="62.8" height="15" fill="#999" fill-opacity="0.63"/>
<rect x="368" y="267" width="48" height="15" fill="#cfcfcf" fill-opacity="0.66"/>
<line x1="305.2" y1="267" x2="305.2" y2="282" class="be"/>
<line x1="416" y1="267" x2="416" y2="282" class="be"/>
<g fill="#4580b5" fill-opacity="0.7"><circle cx="223.2" cy="304.85" r="3.2"/><circle cx="235" cy="304.85" r="3.2"/><circle cx="238" cy="304.85" r="3.2"/><circle cx="242" cy="304.85" r="3.2"/><circle cx="247" cy="304.85" r="3.2"/><circle cx="254" cy="304.85" r="3.2"/><circle cx="262" cy="304.85" r="3.2"/><circle cx="270" cy="304.85" r="3.2"/><circle cx="278" cy="304.85" r="3.2"/><circle cx="282" cy="304.85" r="3.2"/><circle cx="286" cy="304.85" r="3.2"/><circle cx="454" cy="304.85" r="3.2"/><circle cx="464" cy="304.85" r="3.2"/><circle cx="468" cy="304.85" r="3.2"/><circle cx="477" cy="304.85" r="3.2"/><circle cx="486" cy="304.85" r="3.2"/><circle cx="512.8" cy="304.85" r="3.2"/><circle cx="532.8" cy="304.85" r="3.2"/><circle cx="550" cy="304.85" r="3.2"/><circle cx="594" cy="304.85" r="3.2"/><circle cx="291.58" cy="304.85" r="3.2"/><circle cx="292.54" cy="304.85" r="3.2"/><circle cx="293.11" cy="304.85" r="3.2"/><circle cx="297.6" cy="304.85" r="3.2"/><circle cx="296.86" cy="304.85" r="3.2"/><circle cx="301.85" cy="304.85" r="3.2"/><circle cx="301.51" cy="304.85" r="3.2"/><circle cx="302.37" cy="304.85" r="3.2"/><circle cx="305.63" cy="304.85" r="3.2"/><circle cx="305.36" cy="304.85" r="3.2"/><circle cx="305.62" cy="304.85" r="3.2"/><circle cx="308" cy="304.85" r="3.2"/><circle cx="308.68" cy="304.85" r="3.2"/><circle cx="307.98" cy="304.85" r="3.2"/><circle cx="312.36" cy="304.85" r="3.2"/><circle cx="313.69" cy="304.85" r="3.2"/><circle cx="317.89" cy="304.85" r="3.2"/><circle cx="317.92" cy="304.85" r="3.2"/><circle cx="322.08" cy="304.85" r="3.2"/><circle cx="322.12" cy="304.85" r="3.2"/><circle cx="327.28" cy="304.85" r="3.2"/><circle cx="327.93" cy="304.85" r="3.2"/><circle cx="327.06" cy="304.85" r="3.2"/><circle cx="330.02" cy="304.85" r="3.2"/><circle cx="331.19" cy="304.85" r="3.2"/><circle cx="331.19" cy="304.85" r="3.2"/><circle cx="335.29" cy="304.85" r="3.2"/><circle cx="334.82" cy="304.85" r="3.2"/><circle cx="340.31" cy="304.85" r="3.2"/><circle cx="339.61" cy="304.85" r="3.2"/><circle cx="340.72" cy="304.85" r="3.2"/><circle cx="342.88" cy="304.85" r="3.2"/><circle cx="344.63" cy="304.85" r="3.2"/><circle cx="347.02" cy="304.85" r="3.2"/><circle cx="347.98" cy="304.85" r="3.2"/><circle cx="351.77" cy="304.85" r="3.2"/><circle cx="353.47" cy="304.85" r="3.2"/><circle cx="352.48" cy="304.85" r="3.2"/><circle cx="356.43" cy="304.85" r="3.2"/><circle cx="358.14" cy="304.85" r="3.2"/><circle cx="359.98" cy="304.85" r="3.2"/><circle cx="361.55" cy="304.85" r="3.2"/><circle cx="364.85" cy="304.85" r="3.2"/><circle cx="366.7" cy="304.85" r="3.2"/><circle cx="371.09" cy="304.85" r="3.2"/><circle cx="369.73" cy="304.85" r="3.2"/><circle cx="370" cy="304.85" r="3.2"/><circle cx="373.35" cy="304.85" r="3.2"/><circle cx="374.93" cy="304.85" r="3.2"/><circle cx="374.96" cy="304.85" r="3.2"/><circle cx="378.5" cy="304.85" r="3.2"/><circle cx="379.69" cy="304.85" r="3.2"/><circle cx="383.85" cy="304.85" r="3.2"/><circle cx="382.77" cy="304.85" r="3.2"/><circle cx="385.69" cy="304.85" r="3.2"/><circle cx="386.37" cy="304.85" r="3.2"/><circle cx="385.78" cy="304.85" r="3.2"/><circle cx="390.47" cy="304.85" r="3.2"/><circle cx="389.63" cy="304.85" r="3.2"/><circle cx="389.34" cy="304.85" r="3.2"/><circle cx="396.35" cy="304.85" r="3.2"/><circle cx="396.62" cy="304.85" r="3.2"/><circle cx="397.05" cy="304.85" r="3.2"/><circle cx="399.9" cy="304.85" r="3.2"/><circle cx="400.53" cy="304.85" r="3.2"/><circle cx="403.96" cy="304.85" r="3.2"/><circle cx="403.9" cy="304.85" r="3.2"/><circle cx="406.7" cy="304.85" r="3.2"/><circle cx="407.74" cy="304.85" r="3.2"/><circle cx="407.66" cy="304.85" r="3.2"/><circle cx="411.42" cy="304.85" r="3.2"/><circle cx="411.67" cy="304.85" r="3.2"/><circle cx="417.95" cy="304.85" r="3.2"/><circle cx="417.56" cy="304.85" r="3.2"/><circle cx="417.24" cy="304.85" r="3.2"/><circle cx="421" cy="304.85" r="3.2"/><circle cx="420.56" cy="304.85" r="3.2"/><circle cx="421.14" cy="304.85" r="3.2"/><circle cx="428.47" cy="304.85" r="3.2"/><circle cx="426.57" cy="304.85" r="3.2"/><circle cx="426.67" cy="304.85" r="3.2"/><circle cx="433.54" cy="304.85" r="3.2"/><circle cx="433.18" cy="304.85" r="3.2"/><circle cx="438.82" cy="304.85" r="3.2"/><circle cx="437.29" cy="304.85" r="3.2"/><circle cx="437.51" cy="304.85" r="3.2"/><circle cx="442.14" cy="304.85" r="3.2"/><circle cx="442.19" cy="304.85" r="3.2"/><circle cx="446" cy="304.85" r="3.2"/></g>
<line x1="224.4" y1="304.5" x2="308.8" y2="304.5" class="wl"/>
<line x1="421.2" y1="304.5" x2="550" y2="304.5" class="wl"/>
<line x1="224.4" y1="297" x2="224.4" y2="312" class="cap"/>
<line x1="550" y1="297" x2="550" y2="312" class="cap"/>
<rect x="308.8" y="297" width="66.4" height="15" fill="#999" fill-opacity="0.63"/>
<rect x="375.2" y="297" width="46" height="15" fill="#cfcfcf" fill-opacity="0.66"/>
<line x1="308.8" y1="297" x2="308.8" y2="312" class="be"/>
<line x1="421.2" y1="297" x2="421.2" y2="312" class="be"/>
<g fill="#4580b5" fill-opacity="0.7"><circle cx="234" cy="334.85" r="3.2"/><circle cx="246" cy="334.85" r="3.2"/><circle cx="254" cy="334.85" r="3.2"/><circle cx="261" cy="334.85" r="3.2"/><circle cx="265" cy="334.85" r="3.2"/><circle cx="270" cy="334.85" r="3.2"/><circle cx="275" cy="334.85" r="3.2"/><circle cx="284" cy="334.85" r="3.2"/><circle cx="288" cy="334.85" r="3.2"/><circle cx="292" cy="334.85" r="3.2"/><circle cx="282" cy="334.85" r="3.2"/><circle cx="285" cy="334.85" r="3.2"/><circle cx="292.4" cy="334.85" r="3.2"/><circle cx="296.3" cy="334.85" r="3.2"/><circle cx="302.6" cy="334.85" r="3.2"/><circle cx="307.2" cy="334.85" r="3.2"/><circle cx="312.7" cy="334.85" r="3.2"/><circle cx="322" cy="334.85" r="3.2"/><circle cx="327.4" cy="334.85" r="3.2"/><circle cx="332.9" cy="334.85" r="3.2"/><circle cx="338.3" cy="334.85" r="3.2"/><circle cx="344.5" cy="334.85" r="3.2"/><circle cx="346.9" cy="334.85" r="3.2"/><circle cx="349.2" cy="334.85" r="3.2"/><circle cx="355.4" cy="334.85" r="3.2"/><circle cx="360.9" cy="334.85" r="3.2"/><circle cx="367.1" cy="334.85" r="3.2"/><circle cx="369.4" cy="334.85" r="3.2"/><circle cx="373.3" cy="334.85" r="3.2"/><circle cx="379.5" cy="334.85" r="3.2"/><circle cx="381.4" cy="334.85" r="3.2"/><circle cx="392" cy="334.85" r="3.2"/><circle cx="406.7" cy="334.85" r="3.2"/><circle cx="419.2" cy="334.85" r="3.2"/><circle cx="436" cy="334.85" r="3.2"/><circle cx="440" cy="334.85" r="3.2"/><circle cx="444" cy="334.85" r="3.2"/><circle cx="452" cy="334.85" r="3.2"/><circle cx="469" cy="334.85" r="3.2"/><circle cx="493" cy="334.85" r="3.2"/><circle cx="508.4" cy="334.85" r="3.2"/><circle cx="520" cy="334.85" r="3.2"/><circle cx="532.8" cy="334.85" r="3.2"/><circle cx="605.6" cy="334.85" r="3.2"/></g>
<line x1="234.8" y1="334.5" x2="293.2" y2="334.5" class="wl"/>
<line x1="380.8" y1="334.5" x2="508.4" y2="334.5" class="wl"/>
<line x1="234.8" y1="327" x2="234.8" y2="342" class="cap"/>
<line x1="508.4" y1="327" x2="508.4" y2="342" class="cap"/>
<rect x="293.2" y="327" width="42" height="15" fill="#999" fill-opacity="0.63"/>
<rect x="335.2" y="327" width="45.6" height="15" fill="#cfcfcf" fill-opacity="0.66"/>
<line x1="293.2" y1="327" x2="293.2" y2="342" class="be"/>
<line x1="380.8" y1="327" x2="380.8" y2="342" class="be"/>
<g fill="#4580b5" fill-opacity="0.7"><circle cx="202" cy="364.85" r="3.2"/><circle cx="205" cy="364.85" r="3.2"/><circle cx="213" cy="364.85" r="3.2"/><circle cx="224" cy="364.85" r="3.2"/><circle cx="228" cy="364.85" r="3.2"/><circle cx="234" cy="364.85" r="3.2"/><circle cx="240" cy="364.85" r="3.2"/><circle cx="246" cy="364.85" r="3.2"/><circle cx="250" cy="364.85" r="3.2"/><circle cx="254" cy="364.85" r="3.2"/><circle cx="258" cy="364.85" r="3.2"/><circle cx="267" cy="364.85" r="3.2"/><circle cx="270" cy="364.85" r="3.2"/><circle cx="276" cy="364.85" r="3.2"/><circle cx="280" cy="364.85" r="3.2"/><circle cx="284" cy="364.85" r="3.2"/><circle cx="287" cy="364.85" r="3.2"/><circle cx="294.3" cy="364.85" r="3.2"/><circle cx="303" cy="364.85" r="3.2"/><circle cx="311.1" cy="364.85" r="3.2"/><circle cx="313.4" cy="364.85" r="3.2"/><circle cx="316.5" cy="364.85" r="3.2"/><circle cx="325.1" cy="364.85" r="3.2"/><circle cx="332.1" cy="364.85" r="3.2"/><circle cx="334.4" cy="364.85" r="3.2"/><circle cx="337.5" cy="364.85" r="3.2"/><circle cx="340.7" cy="364.85" r="3.2"/><circle cx="346.9" cy="364.85" r="3.2"/><circle cx="354.6" cy="364.85" r="3.2"/><circle cx="361.6" cy="364.85" r="3.2"/><circle cx="364.8" cy="364.85" r="3.2"/><circle cx="367.9" cy="364.85" r="3.2"/><circle cx="373.3" cy="364.85" r="3.2"/><circle cx="380.3" cy="364.85" r="3.2"/><circle cx="386.5" cy="364.85" r="3.2"/><circle cx="393.5" cy="364.85" r="3.2"/><circle cx="400.5" cy="364.85" r="3.2"/><circle cx="404.4" cy="364.85" r="3.2"/><circle cx="485" cy="364.85" r="3.2"/><circle cx="504" cy="364.85" r="3.2"/><circle cx="550" cy="364.85" r="3.2"/><circle cx="595.2" cy="364.85" r="3.2"/><circle cx="407.09" cy="364.85" r="3.2"/><circle cx="406.77" cy="364.85" r="3.2"/><circle cx="412.37" cy="364.85" r="3.2"/><circle cx="413.13" cy="364.85" r="3.2"/><circle cx="418.83" cy="364.85" r="3.2"/><circle cx="417.74" cy="364.85" r="3.2"/><circle cx="416.62" cy="364.85" r="3.2"/><circle cx="423.28" cy="364.85" r="3.2"/><circle cx="421.97" cy="364.85" r="3.2"/><circle cx="423.28" cy="364.85" r="3.2"/><circle cx="428.67" cy="364.85" r="3.2"/><circle cx="430" cy="364.85" r="3.2"/><circle cx="430" cy="364.85" r="3.2"/><circle cx="437.2" cy="364.85" r="3.2"/><circle cx="437.83" cy="364.85" r="3.2"/><circle cx="445.44" cy="364.85" r="3.2"/><circle cx="444.59" cy="364.85" r="3.2"/><circle cx="450.61" cy="364.85" r="3.2"/><circle cx="450.78" cy="364.85" r="3.2"/><circle cx="455.86" cy="364.85" r="3.2"/><circle cx="455.64" cy="364.85" r="3.2"/><circle cx="460" cy="364.85" r="3.2"/><circle cx="468.47" cy="364.85" r="3.2"/><circle cx="468.18" cy="364.85" r="3.2"/><circle cx="472.68" cy="364.85" r="3.2"/><circle cx="472.63" cy="364.85" r="3.2"/><circle cx="478" cy="364.85" r="3.2"/></g>
<line x1="203.2" y1="364.5" x2="285.2" y2="364.5" class="wl"/>
<line x1="407.2" y1="364.5" x2="550" y2="364.5" class="wl"/>
<line x1="203.2" y1="357" x2="203.2" y2="372" class="cap"/>
<line x1="550" y1="357" x2="550" y2="372" class="cap"/>
<rect x="285.2" y="357" width="58.8" height="15" fill="#999" fill-opacity="0.63"/>
<rect x="344" y="357" width="63.2" height="15" fill="#cfcfcf" fill-opacity="0.66"/>
<line x1="285.2" y1="357" x2="285.2" y2="372" class="be"/>
<line x1="407.2" y1="357" x2="407.2" y2="372" class="be"/>
<g fill="#4580b5" fill-opacity="0.7"><circle cx="233.2" cy="394.85" r="3.2"/><circle cx="240" cy="394.85" r="3.2"/><circle cx="269" cy="394.85" r="3.2"/><circle cx="278" cy="394.85" r="3.2"/><circle cx="294" cy="394.85" r="3.2"/><circle cx="313" cy="394.85" r="3.2"/><circle cx="323" cy="394.85" r="3.2"/><circle cx="498" cy="394.85" r="3.2"/><circle cx="502" cy="394.85" r="3.2"/><circle cx="504.4" cy="394.85" r="3.2"/><circle cx="565.2" cy="394.85" r="3.2"/><circle cx="332.36" cy="394.85" r="3.2"/><circle cx="332.78" cy="394.85" r="3.2"/><circle cx="333.42" cy="394.85" r="3.2"/><circle cx="339.67" cy="394.85" r="3.2"/><circle cx="337.87" cy="394.85" r="3.2"/><circle cx="337.51" cy="394.85" r="3.2"/><circle cx="345.75" cy="394.85" r="3.2"/><circle cx="345.95" cy="394.85" r="3.2"/><circle cx="344.27" cy="394.85" r="3.2"/><circle cx="349.3" cy="394.85" r="3.2"/><circle cx="348.11" cy="394.85" r="3.2"/><circle cx="350.24" cy="394.85" r="3.2"/><circle cx="354" cy="394.85" r="3.2"/><circle cx="355.48" cy="394.85" r="3.2"/><circle cx="355.08" cy="394.85" r="3.2"/><circle cx="358.22" cy="394.85" r="3.2"/><circle cx="358.69" cy="394.85" r="3.2"/><circle cx="364.04" cy="394.85" r="3.2"/><circle cx="361.88" cy="394.85" r="3.2"/><circle cx="363.39" cy="394.85" r="3.2"/><circle cx="365.74" cy="394.85" r="3.2"/><circle cx="366.03" cy="394.85" r="3.2"/><circle cx="365.48" cy="394.85" r="3.2"/><circle cx="371.36" cy="394.85" r="3.2"/><circle cx="370.71" cy="394.85" r="3.2"/><circle cx="371.2" cy="394.85" r="3.2"/><circle cx="374.4" cy="394.85" r="3.2"/><circle cx="374.49" cy="394.85" r="3.2"/><circle cx="375.38" cy="394.85" r="3.2"/><circle cx="378.71" cy="394.85" r="3.2"/><circle cx="379.89" cy="394.85" r="3.2"/><circle cx="382.63" cy="394.85" r="3.2"/><circle cx="384" cy="394.85" r="3.2"/><circle cx="387.14" cy="394.85" r="3.2"/><circle cx="387.03" cy="394.85" r="3.2"/><circle cx="390.36" cy="394.85" r="3.2"/><circle cx="392.35" cy="394.85" r="3.2"/><circle cx="390.06" cy="394.85" r="3.2"/><circle cx="396.48" cy="394.85" r="3.2"/><circle cx="396.11" cy="394.85" r="3.2"/><circle cx="398.83" cy="394.85" r="3.2"/><circle cx="400.02" cy="394.85" r="3.2"/><circle cx="403.48" cy="394.85" r="3.2"/><circle cx="404.1" cy="394.85" r="3.2"/><circle cx="403.22" cy="394.85" r="3.2"/><circle cx="408.93" cy="394.85" r="3.2"/><circle cx="408.18" cy="394.85" r="3.2"/><circle cx="408.64" cy="394.85" r="3.2"/><circle cx="413.02" cy="394.85" r="3.2"/><circle cx="412.29" cy="394.85" r="3.2"/><circle cx="416.59" cy="394.85" r="3.2"/><circle cx="417.13" cy="394.85" r="3.2"/><circle cx="419.34" cy="394.85" r="3.2"/><circle cx="419.64" cy="394.85" r="3.2"/><circle cx="421.18" cy="394.85" r="3.2"/><circle cx="423.06" cy="394.85" r="3.2"/><circle cx="424.18" cy="394.85" r="3.2"/><circle cx="429.57" cy="394.85" r="3.2"/><circle cx="427.58" cy="394.85" r="3.2"/><circle cx="427.89" cy="394.85" r="3.2"/><circle cx="433.22" cy="394.85" r="3.2"/><circle cx="431.6" cy="394.85" r="3.2"/><circle cx="434" cy="394.85" r="3.2"/><circle cx="435.62" cy="394.85" r="3.2"/><circle cx="433.82" cy="394.85" r="3.2"/><circle cx="436.01" cy="394.85" r="3.2"/><circle cx="440.43" cy="394.85" r="3.2"/><circle cx="440.95" cy="394.85" r="3.2"/><circle cx="440.01" cy="394.85" r="3.2"/><circle cx="443" cy="394.85" r="3.2"/><circle cx="447.81" cy="394.85" r="3.2"/><circle cx="446.34" cy="394.85" r="3.2"/><circle cx="446.03" cy="394.85" r="3.2"/><circle cx="453.61" cy="394.85" r="3.2"/><circle cx="451.89" cy="394.85" r="3.2"/><circle cx="455" cy="394.85" r="3.2"/><circle cx="458.71" cy="394.85" r="3.2"/><circle cx="458" cy="394.85" r="3.2"/><circle cx="458.11" cy="394.85" r="3.2"/><circle cx="463.54" cy="394.85" r="3.2"/><circle cx="465" cy="394.85" r="3.2"/><circle cx="465" cy="394.85" r="3.2"/><circle cx="465" cy="394.85" r="3.2"/><circle cx="469" cy="394.85" r="3.2"/><circle cx="467.61" cy="394.85" r="3.2"/><circle cx="467.82" cy="394.85" r="3.2"/><circle cx="473.74" cy="394.85" r="3.2"/><circle cx="475.14" cy="394.85" r="3.2"/><circle cx="475.19" cy="394.85" r="3.2"/><circle cx="478" cy="394.85" r="3.2"/><circle cx="481.02" cy="394.85" r="3.2"/><circle cx="481.66" cy="394.85" r="3.2"/><circle cx="487" cy="394.85" r="3.2"/></g>
<line x1="240" y1="394.5" x2="355.2" y2="394.5" class="wl"/>
<line x1="434" y1="394.5" x2="504.4" y2="394.5" class="wl"/>
<line x1="240" y1="387" x2="240" y2="402" class="cap"/>
<line x1="504.4" y1="387" x2="504.4" y2="402" class="cap"/>
<rect x="355.2" y="387" width="52" height="15" fill="#999" fill-opacity="0.63"/>
<rect x="407.2" y="387" width="26.8" height="15" fill="#cfcfcf" fill-opacity="0.66"/>
<line x1="355.2" y1="387" x2="355.2" y2="402" class="be"/>
<line x1="434" y1="387" x2="434" y2="402" class="be"/>
<g fill="#4580b5" fill-opacity="0.7"><circle cx="210" cy="424.85" r="3.2"/><circle cx="217" cy="424.85" r="3.2"/><circle cx="224" cy="424.85" r="3.2"/><circle cx="228" cy="424.85" r="3.2"/><circle cx="232" cy="424.85" r="3.2"/><circle cx="240" cy="424.85" r="3.2"/><circle cx="246" cy="424.85" r="3.2"/><circle cx="250" cy="424.85" r="3.2"/><circle cx="254" cy="424.85" r="3.2"/><circle cx="261" cy="424.85" r="3.2"/><circle cx="265" cy="424.85" r="3.2"/><circle cx="269" cy="424.85" r="3.2"/><circle cx="275" cy="424.85" r="3.2"/><circle cx="279" cy="424.85" r="3.2"/><circle cx="283" cy="424.85" r="3.2"/><circle cx="287" cy="424.85" r="3.2"/><circle cx="294" cy="424.85" r="3.2"/><circle cx="298" cy="424.85" r="3.2"/><circle cx="504.4" cy="424.85" r="3.2"/><circle cx="595.2" cy="424.85" r="3.2"/><circle cx="300.11" cy="424.85" r="3.2"/><circle cx="300.75" cy="424.85" r="3.2"/><circle cx="301.27" cy="424.85" r="3.2"/><circle cx="305.28" cy="424.85" r="3.2"/><circle cx="304.4" cy="424.85" r="3.2"/><circle cx="304.29" cy="424.85" r="3.2"/><circle cx="309.4" cy="424.85" r="3.2"/><circle cx="308.49" cy="424.85" r="3.2"/><circle cx="309.81" cy="424.85" r="3.2"/><circle cx="313.43" cy="424.85" r="3.2"/><circle cx="313.1" cy="424.85" r="3.2"/><circle cx="312.6" cy="424.85" r="3.2"/><circle cx="318.15" cy="424.85" r="3.2"/><circle cx="319.04" cy="424.85" r="3.2"/><circle cx="322.86" cy="424.85" r="3.2"/><circle cx="323.56" cy="424.85" r="3.2"/><circle cx="328.5" cy="424.85" r="3.2"/><circle cx="328.52" cy="424.85" r="3.2"/><circle cx="327.48" cy="424.85" r="3.2"/><circle cx="331.06" cy="424.85" r="3.2"/><circle cx="330.63" cy="424.85" r="3.2"/><circle cx="337.46" cy="424.85" r="3.2"/><circle cx="337.51" cy="424.85" r="3.2"/><circle cx="341.34" cy="424.85" r="3.2"/><circle cx="342.26" cy="424.85" r="3.2"/><circle cx="345.98" cy="424.85" r="3.2"/><circle cx="345.97" cy="424.85" r="3.2"/><circle cx="346.23" cy="424.85" r="3.2"/><circle cx="349.72" cy="424.85" r="3.2"/><circle cx="348.91" cy="424.85" r="3.2"/><circle cx="354.5" cy="424.85" r="3.2"/><circle cx="355.01" cy="424.85" r="3.2"/><circle cx="358.79" cy="424.85" r="3.2"/><circle cx="356.69" cy="424.85" r="3.2"/><circle cx="363.52" cy="424.85" r="3.2"/><circle cx="363.8" cy="424.85" r="3.2"/><circle cx="363.75" cy="424.85" r="3.2"/><circle cx="367.53" cy="424.85" r="3.2"/><circle cx="368.84" cy="424.85" r="3.2"/><circle cx="369" cy="424.85" r="3.2"/><circle cx="373.03" cy="424.85" r="3.2"/><circle cx="374.1" cy="424.85" r="3.2"/><circle cx="373.42" cy="424.85" r="3.2"/><circle cx="378.84" cy="424.85" r="3.2"/><circle cx="379.22" cy="424.85" r="3.2"/><circle cx="385.28" cy="424.85" r="3.2"/><circle cx="383.32" cy="424.85" r="3.2"/><circle cx="385.1" cy="424.85" r="3.2"/><circle cx="387.47" cy="424.85" r="3.2"/><circle cx="389.64" cy="424.85" r="3.2"/><circle cx="388" cy="424.85" r="3.2"/><circle cx="391.22" cy="424.85" r="3.2"/><circle cx="392.05" cy="424.85" r="3.2"/><circle cx="393.41" cy="424.85" r="3.2"/><circle cx="397.59" cy="424.85" r="3.2"/><circle cx="398.22" cy="424.85" r="3.2"/><circle cx="396.53" cy="424.85" r="3.2"/><circle cx="402.66" cy="424.85" r="3.2"/><circle cx="401.7" cy="424.85" r="3.2"/><circle cx="402.02" cy="424.85" r="3.2"/><circle cx="404.96" cy="424.85" r="3.2"/><circle cx="406.9" cy="424.85" r="3.2"/><circle cx="407" cy="424.85" r="3.2"/><circle cx="407.59" cy="424.85" r="3.2"/><circle cx="407.68" cy="424.85" r="3.2"/><circle cx="405.92" cy="424.85" r="3.2"/><circle cx="411.92" cy="424.85" r="3.2"/><circle cx="412.94" cy="424.85" r="3.2"/><circle cx="417.35" cy="424.85" r="3.2"/><circle cx="416.77" cy="424.85" r="3.2"/><circle cx="424.17" cy="424.85" r="3.2"/><circle cx="424.54" cy="424.85" r="3.2"/><circle cx="424.25" cy="424.85" r="3.2"/><circle cx="429.85" cy="424.85" r="3.2"/><circle cx="427.74" cy="424.85" r="3.2"/><circle cx="427.54" cy="424.85" r="3.2"/><circle cx="432.41" cy="424.85" r="3.2"/><circle cx="432.09" cy="424.85" r="3.2"/><circle cx="439.35" cy="424.85" r="3.2"/><circle cx="439.95" cy="424.85" r="3.2"/><circle cx="443.53" cy="424.85" r="3.2"/><circle cx="445.43" cy="424.85" r="3.2"/><circle cx="451.27" cy="424.85" r="3.2"/><circle cx="450.04" cy="424.85" r="3.2"/><circle cx="451.17" cy="424.85" r="3.2"/><circle cx="454" cy="424.85" r="3.2"/><circle cx="456.74" cy="424.85" r="3.2"/><circle cx="458.8" cy="424.85" r="3.2"/><circle cx="463.46" cy="424.85" r="3.2"/><circle cx="464.6" cy="424.85" r="3.2"/><circle cx="462.29" cy="424.85" r="3.2"/><circle cx="468.82" cy="424.85" r="3.2"/><circle cx="467.84" cy="424.85" r="3.2"/><circle cx="467.84" cy="424.85" r="3.2"/><circle cx="473.82" cy="424.85" r="3.2"/><circle cx="474.69" cy="424.85" r="3.2"/><circle cx="481.1" cy="424.85" r="3.2"/><circle cx="481.31" cy="424.85" r="3.2"/><circle cx="481.33" cy="424.85" r="3.2"/><circle cx="485.75" cy="424.85" r="3.2"/><circle cx="487.11" cy="424.85" r="3.2"/><circle cx="486.77" cy="424.85" r="3.2"/><circle cx="488" cy="424.85" r="3.2"/></g>
<line x1="211.2" y1="424.5" x2="300.8" y2="424.5" class="wl"/>
<line x1="407.2" y1="424.5" x2="504.4" y2="424.5" class="wl"/>
<line x1="211.2" y1="417" x2="211.2" y2="432" class="cap"/>
<line x1="504.4" y1="417" x2="504.4" y2="432" class="cap"/>
<rect x="300.8" y="417" width="55.2" height="15" fill="#999" fill-opacity="0.63"/>
<rect x="356" y="417" width="51.2" height="15" fill="#cfcfcf" fill-opacity="0.66"/>
<line x1="300.8" y1="417" x2="300.8" y2="432" class="be"/>
<line x1="407.2" y1="417" x2="407.2" y2="432" class="be"/>
<g fill="#4580b5" fill-opacity="0.7"><circle cx="223.2" cy="454.85" r="3.2"/><circle cx="228" cy="454.85" r="3.2"/><circle cx="232" cy="454.85" r="3.2"/><circle cx="235" cy="454.85" r="3.2"/><circle cx="241" cy="454.85" r="3.2"/><circle cx="254" cy="454.85" r="3.2"/><circle cx="260" cy="454.85" r="3.2"/><circle cx="264" cy="454.85" r="3.2"/><circle cx="268" cy="454.85" r="3.2"/><circle cx="275" cy="454.85" r="3.2"/><circle cx="279" cy="454.85" r="3.2"/><circle cx="283" cy="454.85" r="3.2"/><circle cx="287" cy="454.85" r="3.2"/><circle cx="293" cy="454.85" r="3.2"/><circle cx="297" cy="454.85" r="3.2"/><circle cx="462" cy="454.85" r="3.2"/><circle cx="466" cy="454.85" r="3.2"/><circle cx="473" cy="454.85" r="3.2"/><circle cx="498.8" cy="454.85" r="3.2"/><circle cx="522.4" cy="454.85" r="3.2"/><circle cx="610" cy="454.85" r="3.2"/><circle cx="301.69" cy="454.85" r="3.2"/><circle cx="301.49" cy="454.85" r="3.2"/><circle cx="301.59" cy="454.85" r="3.2"/><circle cx="306.34" cy="454.85" r="3.2"/><circle cx="304.94" cy="454.85" r="3.2"/><circle cx="311.1" cy="454.85" r="3.2"/><circle cx="312.42" cy="454.85" r="3.2"/><circle cx="313.79" cy="454.85" r="3.2"/><circle cx="314.76" cy="454.85" r="3.2"/><circle cx="314.46" cy="454.85" r="3.2"/><circle cx="319.44" cy="454.85" r="3.2"/><circle cx="319.29" cy="454.85" r="3.2"/><circle cx="318.54" cy="454.85" r="3.2"/><circle cx="322.05" cy="454.85" r="3.2"/><circle cx="322.11" cy="454.85" r="3.2"/><circle cx="327.85" cy="454.85" r="3.2"/><circle cx="326.69" cy="454.85" r="3.2"/><circle cx="332.6" cy="454.85" r="3.2"/><circle cx="332.03" cy="454.85" r="3.2"/><circle cx="336.04" cy="454.85" r="3.2"/><circle cx="336.73" cy="454.85" r="3.2"/><circle cx="335.19" cy="454.85" r="3.2"/><circle cx="340.58" cy="454.85" r="3.2"/><circle cx="340.45" cy="454.85" r="3.2"/><circle cx="340.66" cy="454.85" r="3.2"/><circle cx="344.51" cy="454.85" r="3.2"/><circle cx="345.49" cy="454.85" r="3.2"/><circle cx="344.57" cy="454.85" r="3.2"/><circle cx="348.66" cy="454.85" r="3.2"/><circle cx="348.9" cy="454.85" r="3.2"/><circle cx="350.15" cy="454.85" r="3.2"/><circle cx="352.12" cy="454.85" r="3.2"/><circle cx="353.18" cy="454.85" r="3.2"/><circle cx="353.59" cy="454.85" r="3.2"/><circle cx="357.29" cy="454.85" r="3.2"/><circle cx="356.67" cy="454.85" r="3.2"/><circle cx="358.27" cy="454.85" r="3.2"/><circle cx="363.04" cy="454.85" r="3.2"/><circle cx="362.88" cy="454.85" r="3.2"/><circle cx="362.3" cy="454.85" r="3.2"/><circle cx="367.76" cy="454.85" r="3.2"/><circle cx="365.95" cy="454.85" r="3.2"/><circle cx="367.55" cy="454.85" r="3.2"/><circle cx="370.95" cy="454.85" r="3.2"/><circle cx="370.57" cy="454.85" r="3.2"/><circle cx="371.7" cy="454.85" r="3.2"/><circle cx="377.03" cy="454.85" r="3.2"/><circle cx="377.4" cy="454.85" r="3.2"/><circle cx="380.14" cy="454.85" r="3.2"/><circle cx="382.16" cy="454.85" r="3.2"/><circle cx="385.82" cy="454.85" r="3.2"/><circle cx="384.04" cy="454.85" r="3.2"/><circle cx="390.78" cy="454.85" r="3.2"/><circle cx="390.67" cy="454.85" r="3.2"/><circle cx="389.4" cy="454.85" r="3.2"/><circle cx="393" cy="454.85" r="3.2"/><circle cx="393.67" cy="454.85" r="3.2"/><circle cx="394.73" cy="454.85" r="3.2"/><circle cx="394.39" cy="454.85" r="3.2"/><circle cx="401.15" cy="454.85" r="3.2"/><circle cx="400.99" cy="454.85" r="3.2"/><circle cx="400.56" cy="454.85" r="3.2"/><circle cx="406.69" cy="454.85" r="3.2"/><circle cx="406.99" cy="454.85" r="3.2"/><circle cx="408.4" cy="454.85" r="3.2"/><circle cx="411.83" cy="454.85" r="3.2"/><circle cx="411.91" cy="454.85" r="3.2"/><circle cx="418" cy="454.85" r="3.2"/><circle cx="425.12" cy="454.85" r="3.2"/><circle cx="426.5" cy="454.85" r="3.2"/><circle cx="426.22" cy="454.85" r="3.2"/><circle cx="432.12" cy="454.85" r="3.2"/><circle cx="433.25" cy="454.85" r="3.2"/><circle cx="437.9" cy="454.85" r="3.2"/><circle cx="436.79" cy="454.85" r="3.2"/><circle cx="442.44" cy="454.85" r="3.2"/><circle cx="442.65" cy="454.85" r="3.2"/><circle cx="441.55" cy="454.85" r="3.2"/><circle cx="446" cy="454.85" r="3.2"/></g>
<line x1="224.4" y1="454.5" x2="300.8" y2="454.5" class="wl"/>
<line x1="393.2" y1="454.5" x2="522.4" y2="454.5" class="wl"/>
<line x1="224.4" y1="447" x2="224.4" y2="462" class="cap"/>
<line x1="522.4" y1="447" x2="522.4" y2="462" class="cap"/>
<rect x="300.8" y="447" width="40.4" height="15" fill="#999" fill-opacity="0.63"/>
<rect x="341.2" y="447" width="52" height="15" fill="#cfcfcf" fill-opacity="0.66"/>
<line x1="300.8" y1="447" x2="300.8" y2="462" class="be"/>
<line x1="393.2" y1="447" x2="393.2" y2="462" class="be"/>
<g fill="#4580b5" fill-opacity="0.7"><circle cx="143.2" cy="484.85" r="3.2"/><circle cx="398" cy="484.85" r="3.2"/><circle cx="159.32" cy="484.85" r="3.2"/><circle cx="158.79" cy="484.85" r="3.2"/><circle cx="165.49" cy="484.85" r="3.2"/><circle cx="165.61" cy="484.85" r="3.2"/><circle cx="170.93" cy="484.85" r="3.2"/><circle cx="169.67" cy="484.85" r="3.2"/><circle cx="171.64" cy="484.85" r="3.2"/><circle cx="176" cy="484.85" r="3.2"/><circle cx="185.35" cy="484.85" r="3.2"/><circle cx="187" cy="484.85" r="3.2"/><circle cx="191.49" cy="484.85" r="3.2"/><circle cx="191.54" cy="484.85" r="3.2"/><circle cx="190.61" cy="484.85" r="3.2"/><circle cx="196" cy="484.85" r="3.2"/><circle cx="199.9" cy="484.85" r="3.2"/><circle cx="199.97" cy="484.85" r="3.2"/><circle cx="200.02" cy="484.85" r="3.2"/><circle cx="205.95" cy="484.85" r="3.2"/><circle cx="205.5" cy="484.85" r="3.2"/><circle cx="205.68" cy="484.85" r="3.2"/><circle cx="209.55" cy="484.85" r="3.2"/><circle cx="208.65" cy="484.85" r="3.2"/><circle cx="213.54" cy="484.85" r="3.2"/><circle cx="213.55" cy="484.85" r="3.2"/><circle cx="218" cy="484.85" r="3.2"/><circle cx="221.95" cy="484.85" r="3.2"/><circle cx="222" cy="484.85" r="3.2"/><circle cx="220.02" cy="484.85" r="3.2"/><circle cx="226.28" cy="484.85" r="3.2"/><circle cx="225.89" cy="484.85" r="3.2"/><circle cx="232.56" cy="484.85" r="3.2"/><circle cx="232.66" cy="484.85" r="3.2"/><circle cx="238.01" cy="484.85" r="3.2"/><circle cx="236.51" cy="484.85" r="3.2"/><circle cx="235.87" cy="484.85" r="3.2"/><circle cx="240.38" cy="484.85" r="3.2"/><circle cx="241.28" cy="484.85" r="3.2"/><circle cx="247.94" cy="484.85" r="3.2"/><circle cx="248" cy="484.85" r="3.2"/><circle cx="248" cy="484.85" r="3.2"/><circle cx="248.39" cy="484.85" r="3.2"/><circle cx="246.86" cy="484.85" r="3.2"/><circle cx="247.14" cy="484.85" r="3.2"/><circle cx="251.85" cy="484.85" r="3.2"/><circle cx="252.23" cy="484.85" r="3.2"/><circle cx="251.65" cy="484.85" r="3.2"/><circle cx="256.23" cy="484.85" r="3.2"/><circle cx="258.12" cy="484.85" r="3.2"/><circle cx="262.42" cy="484.85" r="3.2"/><circle cx="261.13" cy="484.85" r="3.2"/><circle cx="260.03" cy="484.85" r="3.2"/><circle cx="264.83" cy="484.85" r="3.2"/><circle cx="265.18" cy="484.85" r="3.2"/><circle cx="264.69" cy="484.85" r="3.2"/><circle cx="269.09" cy="484.85" r="3.2"/><circle cx="269.92" cy="484.85" r="3.2"/><circle cx="272.75" cy="484.85" r="3.2"/><circle cx="274.43" cy="484.85" r="3.2"/><circle cx="276.84" cy="484.85" r="3.2"/><circle cx="277.97" cy="484.85" r="3.2"/><circle cx="281.65" cy="484.85" r="3.2"/><circle cx="281.96" cy="484.85" r="3.2"/><circle cx="284.75" cy="484.85" r="3.2"/><circle cx="286.67" cy="484.85" r="3.2"/><circle cx="286.68" cy="484.85" r="3.2"/><circle cx="289.56" cy="484.85" r="3.2"/><circle cx="290.37" cy="484.85" r="3.2"/><circle cx="294.56" cy="484.85" r="3.2"/><circle cx="295.77" cy="484.85" r="3.2"/><circle cx="295.78" cy="484.85" r="3.2"/><circle cx="300.82" cy="484.85" r="3.2"/><circle cx="300.24" cy="484.85" r="3.2"/><circle cx="300.51" cy="484.85" r="3.2"/><circle cx="304.65" cy="484.85" r="3.2"/><circle cx="304.65" cy="484.85" r="3.2"/><circle cx="305.05" cy="484.85" r="3.2"/><circle cx="307.08" cy="484.85" r="3.2"/><circle cx="307.44" cy="484.85" r="3.2"/><circle cx="311.53" cy="484.85" r="3.2"/><circle cx="310.88" cy="484.85" r="3.2"/><circle cx="317.39" cy="484.85" r="3.2"/><circle cx="317.03" cy="484.85" r="3.2"/><circle cx="322" cy="484.85" r="3.2"/><circle cx="320.33" cy="484.85" r="3.2"/><circle cx="322" cy="484.85" r="3.2"/><circle cx="322.31" cy="484.85" r="3.2"/><circle cx="324.28" cy="484.85" r="3.2"/><circle cx="322.53" cy="484.85" r="3.2"/><circle cx="328.92" cy="484.85" r="3.2"/><circle cx="329.89" cy="484.85" r="3.2"/><circle cx="335.99" cy="484.85" r="3.2"/><circle cx="335.21" cy="484.85" r="3.2"/><circle cx="335.39" cy="484.85" r="3.2"/><circle cx="341.33" cy="484.85" r="3.2"/><circle cx="340.77" cy="484.85" r="3.2"/><circle cx="345.9" cy="484.85" r="3.2"/><circle cx="347.22" cy="484.85" r="3.2"/><circle cx="346.51" cy="484.85" r="3.2"/><circle cx="352.12" cy="484.85" r="3.2"/><circle cx="352.6" cy="484.85" r="3.2"/><circle cx="352.74" cy="484.85" r="3.2"/><circle cx="358" cy="484.85" r="3.2"/><circle cx="367.89" cy="484.85" r="3.2"/><circle cx="370.24" cy="484.85" r="3.2"/><circle cx="369.73" cy="484.85" r="3.2"/><circle cx="374.46" cy="484.85" r="3.2"/><circle cx="373.94" cy="484.85" r="3.2"/><circle cx="380.55" cy="484.85" r="3.2"/><circle cx="380.87" cy="484.85" r="3.2"/><circle cx="379.62" cy="484.85" r="3.2"/><circle cx="385.48" cy="484.85" r="3.2"/><circle cx="385.84" cy="484.85" r="3.2"/><circle cx="386" cy="484.85" r="3.2"/><circle cx="408.96" cy="484.85" r="3.2"/><circle cx="408.97" cy="484.85" r="3.2"/><circle cx="410.39" cy="484.85" r="3.2"/><circle cx="415.39" cy="484.85" r="3.2"/><circle cx="417.03" cy="484.85" r="3.2"/><circle cx="416.74" cy="484.85" r="3.2"/><circle cx="422.78" cy="484.85" r="3.2"/><circle cx="422.27" cy="484.85" r="3.2"/><circle cx="422.46" cy="484.85" r="3.2"/><circle cx="428" cy="484.85" r="3.2"/><circle cx="433.52" cy="484.85" r="3.2"/><circle cx="433.34" cy="484.85" r="3.2"/><circle cx="440.53" cy="484.85" r="3.2"/><circle cx="441.64" cy="484.85" r="3.2"/><circle cx="447.48" cy="484.85" r="3.2"/><circle cx="447.67" cy="484.85" r="3.2"/><circle cx="452.16" cy="484.85" r="3.2"/><circle cx="452.14" cy="484.85" r="3.2"/><circle cx="451.67" cy="484.85" r="3.2"/><circle cx="456" cy="484.85" r="3.2"/></g>
<line x1="143.2" y1="484.5" x2="248.4" y2="484.5" class="wl"/>
<line x1="322" y1="484.5" x2="430" y2="484.5" class="wl"/>
<line x1="143.2" y1="477" x2="143.2" y2="492" class="cap"/>
<line x1="430" y1="477" x2="430" y2="492" class="cap"/>
<rect x="248.4" y="477" width="31.6" height="15" fill="#999" fill-opacity="0.63"/>
<rect x="280" y="477" width="42" height="15" fill="#cfcfcf" fill-opacity="0.66"/>
<line x1="248.4" y1="477" x2="248.4" y2="492" class="be"/>
<line x1="322" y1="477" x2="322" y2="492" class="be"/>
<g fill="#4580b5" fill-opacity="0.7"><circle cx="232" cy="514.85" r="3.2"/><circle cx="238" cy="514.85" r="3.2"/><circle cx="242" cy="514.85" r="3.2"/><circle cx="249" cy="514.85" r="3.2"/><circle cx="253" cy="514.85" r="3.2"/><circle cx="256" cy="514.85" r="3.2"/><circle cx="262" cy="514.85" r="3.2"/><circle cx="266" cy="514.85" r="3.2"/><circle cx="268" cy="514.85" r="3.2"/><circle cx="274" cy="514.85" r="3.2"/><circle cx="278" cy="514.85" r="3.2"/><circle cx="282" cy="514.85" r="3.2"/><circle cx="286" cy="514.85" r="3.2"/><circle cx="293" cy="514.85" r="3.2"/><circle cx="297" cy="514.85" r="3.2"/><circle cx="301" cy="514.85" r="3.2"/><circle cx="305" cy="514.85" r="3.2"/><circle cx="309" cy="514.85" r="3.2"/><circle cx="424" cy="514.85" r="3.2"/><circle cx="460" cy="514.85" r="3.2"/><circle cx="486" cy="514.85" r="3.2"/><circle cx="504" cy="514.85" r="3.2"/><circle cx="508" cy="514.85" r="3.2"/><circle cx="512" cy="514.85" r="3.2"/><circle cx="532" cy="514.85" r="3.2"/><circle cx="538" cy="514.85" r="3.2"/><circle cx="568.8" cy="514.85" r="3.2"/><circle cx="313.68" cy="514.85" r="3.2"/><circle cx="313.98" cy="514.85" r="3.2"/><circle cx="317.86" cy="514.85" r="3.2"/><circle cx="318.66" cy="514.85" r="3.2"/><circle cx="319.28" cy="514.85" r="3.2"/><circle cx="323" cy="514.85" r="3.2"/><circle cx="323" cy="514.85" r="3.2"/><circle cx="323" cy="514.85" r="3.2"/><circle cx="329" cy="514.85" r="3.2"/><circle cx="328" cy="514.85" r="3.2"/><circle cx="328.33" cy="514.85" r="3.2"/><circle cx="332.48" cy="514.85" r="3.2"/><circle cx="332.29" cy="514.85" r="3.2"/><circle cx="336" cy="514.85" r="3.2"/><circle cx="340.24" cy="514.85" r="3.2"/><circle cx="338.88" cy="514.85" r="3.2"/><circle cx="339.81" cy="514.85" r="3.2"/><circle cx="344.27" cy="514.85" r="3.2"/><circle cx="343.92" cy="514.85" r="3.2"/><circle cx="345.84" cy="514.85" r="3.2"/><circle cx="349.53" cy="514.85" r="3.2"/><circle cx="349.39" cy="514.85" r="3.2"/><circle cx="350.64" cy="514.85" r="3.2"/><circle cx="351.19" cy="514.85" r="3.2"/><circle cx="351.25" cy="514.85" r="3.2"/><circle cx="358.11" cy="514.85" r="3.2"/><circle cx="355.86" cy="514.85" r="3.2"/><circle cx="356.23" cy="514.85" r="3.2"/><circle cx="360.48" cy="514.85" r="3.2"/><circle cx="362.44" cy="514.85" r="3.2"/><circle cx="361.5" cy="514.85" r="3.2"/><circle cx="364.31" cy="514.85" r="3.2"/><circle cx="363.85" cy="514.85" r="3.2"/><circle cx="363.79" cy="514.85" r="3.2"/><circle cx="369.44" cy="514.85" r="3.2"/><circle cx="369.93" cy="514.85" r="3.2"/><circle cx="368.78" cy="514.85" r="3.2"/><circle cx="371" cy="514.85" r="3.2"/><circle cx="372.4" cy="514.85" r="3.2"/><circle cx="372.36" cy="514.85" r="3.2"/><circle cx="378.6" cy="514.85" r="3.2"/><circle cx="378.8" cy="514.85" r="3.2"/><circle cx="383.34" cy="514.85" r="3.2"/><circle cx="383.15" cy="514.85" r="3.2"/><circle cx="388.83" cy="514.85" r="3.2"/><circle cx="386.59" cy="514.85" r="3.2"/><circle cx="389.12" cy="514.85" r="3.2"/><circle cx="390.86" cy="514.85" r="3.2"/><circle cx="391.5" cy="514.85" r="3.2"/><circle cx="392.04" cy="514.85" r="3.2"/><circle cx="395.39" cy="514.85" r="3.2"/><circle cx="396.12" cy="514.85" r="3.2"/><circle cx="399.1" cy="514.85" r="3.2"/><circle cx="398.51" cy="514.85" r="3.2"/><circle cx="398.17" cy="514.85" r="3.2"/><circle cx="403.85" cy="514.85" r="3.2"/><circle cx="403.87" cy="514.85" r="3.2"/><circle cx="407.41" cy="514.85" r="3.2"/><circle cx="405.56" cy="514.85" r="3.2"/><circle cx="411.05" cy="514.85" r="3.2"/><circle cx="409.5" cy="514.85" r="3.2"/><circle cx="409.49" cy="514.85" r="3.2"/><circle cx="415.49" cy="514.85" r="3.2"/><circle cx="415.66" cy="514.85" r="3.2"/><circle cx="418" cy="514.85" r="3.2"/><circle cx="429.62" cy="514.85" r="3.2"/><circle cx="429.32" cy="514.85" r="3.2"/><circle cx="433.24" cy="514.85" r="3.2"/><circle cx="433.45" cy="514.85" r="3.2"/><circle cx="438" cy="514.85" r="3.2"/><circle cx="444.36" cy="514.85" r="3.2"/><circle cx="443.83" cy="514.85" r="3.2"/><circle cx="444.22" cy="514.85" r="3.2"/><circle cx="450.58" cy="514.85" r="3.2"/><circle cx="450.41" cy="514.85" r="3.2"/><circle cx="452" cy="514.85" r="3.2"/><circle cx="465.24" cy="514.85" r="3.2"/><circle cx="465.89" cy="514.85" r="3.2"/><circle cx="471.88" cy="514.85" r="3.2"/><circle cx="472.54" cy="514.85" r="3.2"/><circle cx="471.48" cy="514.85" r="3.2"/><circle cx="478" cy="514.85" r="3.2"/></g>
<line x1="234" y1="514.5" x2="312.8" y2="514.5" class="wl"/>
<line x1="428" y1="514.5" x2="568.8" y2="514.5" class="wl"/>
<line x1="234" y1="507" x2="234" y2="522" class="cap"/>
<line x1="568.8" y1="507" x2="568.8" y2="522" class="cap"/>
<rect x="312.8" y="507" width="60" height="15" fill="#999" fill-opacity="0.63"/>
<rect x="372.8" y="507" width="55.2" height="15" fill="#cfcfcf" fill-opacity="0.66"/>
<line x1="312.8" y1="507" x2="312.8" y2="522" class="be"/>
<line x1="428" y1="507" x2="428" y2="522" class="be"/>
<g fill="#4580b5" fill-opacity="0.7"><circle cx="227.2" cy="544.85" r="3.2"/><circle cx="248.9" cy="544.85" r="3.2"/><circle cx="261" cy="544.85" r="3.2"/><circle cx="269" cy="544.85" r="3.2"/><circle cx="296.7" cy="544.85" r="3.2"/><circle cx="302" cy="544.85" r="3.2"/><circle cx="306.7" cy="544.85" r="3.2"/><circle cx="313" cy="544.85" r="3.2"/><circle cx="317.8" cy="544.85" r="3.2"/><circle cx="324.4" cy="544.85" r="3.2"/><circle cx="331" cy="544.85" r="3.2"/><circle cx="337.8" cy="544.85" r="3.2"/><circle cx="349" cy="544.85" r="3.2"/><circle cx="355.6" cy="544.85" r="3.2"/><circle cx="361" cy="544.85" r="3.2"/><circle cx="367.8" cy="544.85" r="3.2"/><circle cx="373" cy="544.85" r="3.2"/><circle cx="379" cy="544.85" r="3.2"/><circle cx="385.6" cy="544.85" r="3.2"/><circle cx="393.3" cy="544.85" r="3.2"/><circle cx="405.6" cy="544.85" r="3.2"/><circle cx="410" cy="544.85" r="3.2"/><circle cx="415.6" cy="544.85" r="3.2"/><circle cx="427" cy="544.85" r="3.2"/><circle cx="431" cy="544.85" r="3.2"/><circle cx="435" cy="544.85" r="3.2"/><circle cx="440" cy="544.85" r="3.2"/><circle cx="450" cy="544.85" r="3.2"/><circle cx="477" cy="544.85" r="3.2"/><circle cx="488" cy="544.85" r="3.2"/><circle cx="573.2" cy="544.85" r="3.2"/><circle cx="274.6" cy="544.85" r="3.2"/><circle cx="274.12" cy="544.85" r="3.2"/><circle cx="274.61" cy="544.85" r="3.2"/><circle cx="278.53" cy="544.85" r="3.2"/><circle cx="278.91" cy="544.85" r="3.2"/><circle cx="284.83" cy="544.85" r="3.2"/><circle cx="284.33" cy="544.85" r="3.2"/><circle cx="283.74" cy="544.85" r="3.2"/><circle cx="290.57" cy="544.85" r="3.2"/><circle cx="289.89" cy="544.85" r="3.2"/><circle cx="292" cy="544.85" r="3.2"/></g>
<line x1="228" y1="544.5" x2="293.2" y2="544.5" class="wl"/>
<line x1="382" y1="544.5" x2="488" y2="544.5" class="wl"/>
<line x1="228" y1="537" x2="228" y2="552" class="cap"/>
<line x1="488" y1="537" x2="488" y2="552" class="cap"/>
<rect x="293.2" y="537" width="48" height="15" fill="#999" fill-opacity="0.63"/>
<rect x="341.2" y="537" width="40.8" height="15" fill="#cfcfcf" fill-opacity="0.66"/>
<line x1="293.2" y1="537" x2="293.2" y2="552" class="be"/>
<line x1="382" y1="537" x2="382" y2="552" class="be"/>
<g fill="#4580b5" fill-opacity="0.7"><circle cx="240" cy="574.85" r="3.2"/><circle cx="277" cy="574.85" r="3.2"/><circle cx="284" cy="574.85" r="3.2"/><circle cx="292" cy="574.85" r="3.2"/><circle cx="300" cy="574.85" r="3.2"/><circle cx="306" cy="574.85" r="3.2"/><circle cx="312" cy="574.85" r="3.2"/><circle cx="315" cy="574.85" r="3.2"/><circle cx="318" cy="574.85" r="3.2"/><circle cx="466" cy="574.85" r="3.2"/><circle cx="474" cy="574.85" r="3.2"/><circle cx="512" cy="574.85" r="3.2"/><circle cx="610" cy="574.85" r="3.2"/><circle cx="250.06" cy="574.85" r="3.2"/><circle cx="248.81" cy="574.85" r="3.2"/><circle cx="249.78" cy="574.85" r="3.2"/><circle cx="253.84" cy="574.85" r="3.2"/><circle cx="255.07" cy="574.85" r="3.2"/><circle cx="256" cy="574.85" r="3.2"/><circle cx="321.43" cy="574.85" r="3.2"/><circle cx="321.9" cy="574.85" r="3.2"/><circle cx="326.52" cy="574.85" r="3.2"/><circle cx="326.41" cy="574.85" r="3.2"/><circle cx="325.58" cy="574.85" r="3.2"/><circle cx="332.24" cy="574.85" r="3.2"/><circle cx="331.13" cy="574.85" r="3.2"/><circle cx="330.06" cy="574.85" r="3.2"/><circle cx="334.65" cy="574.85" r="3.2"/><circle cx="336.67" cy="574.85" r="3.2"/><circle cx="334.6" cy="574.85" r="3.2"/><circle cx="339.05" cy="574.85" r="3.2"/><circle cx="339.06" cy="574.85" r="3.2"/><circle cx="339.72" cy="574.85" r="3.2"/><circle cx="343.13" cy="574.85" r="3.2"/><circle cx="344.99" cy="574.85" r="3.2"/><circle cx="348.76" cy="574.85" r="3.2"/><circle cx="348.76" cy="574.85" r="3.2"/><circle cx="351" cy="574.85" r="3.2"/><circle cx="359.72" cy="574.85" r="3.2"/><circle cx="360.08" cy="574.85" r="3.2"/><circle cx="363.28" cy="574.85" r="3.2"/><circle cx="363.34" cy="574.85" r="3.2"/><circle cx="367.49" cy="574.85" r="3.2"/><circle cx="368.31" cy="574.85" r="3.2"/><circle cx="368.56" cy="574.85" r="3.2"/><circle cx="373" cy="574.85" r="3.2"/><circle cx="378.61" cy="574.85" r="3.2"/><circle cx="377.53" cy="574.85" r="3.2"/><circle cx="382.42" cy="574.85" r="3.2"/><circle cx="381.64" cy="574.85" r="3.2"/><circle cx="386.02" cy="574.85" r="3.2"/><circle cx="387.37" cy="574.85" r="3.2"/><circle cx="387.37" cy="574.85" r="3.2"/><circle cx="390.19" cy="574.85" r="3.2"/><circle cx="392.1" cy="574.85" r="3.2"/><circle cx="391.42" cy="574.85" r="3.2"/><circle cx="393" cy="574.85" r="3.2"/><circle cx="393.54" cy="574.85" r="3.2"/><circle cx="393.67" cy="574.85" r="3.2"/><circle cx="394.07" cy="574.85" r="3.2"/><circle cx="399.14" cy="574.85" r="3.2"/><circle cx="399.88" cy="574.85" r="3.2"/><circle cx="405.73" cy="574.85" r="3.2"/><circle cx="405.95" cy="574.85" r="3.2"/><circle cx="409.54" cy="574.85" r="3.2"/><circle cx="410.41" cy="574.85" r="3.2"/><circle cx="414.41" cy="574.85" r="3.2"/><circle cx="415.03" cy="574.85" r="3.2"/><circle cx="414.49" cy="574.85" r="3.2"/><circle cx="418" cy="574.85" r="3.2"/><circle cx="426.86" cy="574.85" r="3.2"/><circle cx="428.31" cy="574.85" r="3.2"/><circle cx="434.05" cy="574.85" r="3.2"/><circle cx="431.99" cy="574.85" r="3.2"/><circle cx="436.94" cy="574.85" r="3.2"/><circle cx="437.83" cy="574.85" r="3.2"/><circle cx="438.43" cy="574.85" r="3.2"/><circle cx="443.91" cy="574.85" r="3.2"/><circle cx="443.69" cy="574.85" r="3.2"/><circle cx="444.35" cy="574.85" r="3.2"/><circle cx="446" cy="574.85" r="3.2"/></g>
<line x1="240" y1="574.5" x2="320.4" y2="574.5" class="wl"/>
<line x1="394" y1="574.5" x2="474" y2="574.5" class="wl"/>
<line x1="240" y1="567" x2="240" y2="582" class="cap"/>
<line x1="474" y1="567" x2="474" y2="582" class="cap"/>
<rect x="320.4" y="567" width="35.6" height="15" fill="#999" fill-opacity="0.63"/>
<rect x="356" y="567" width="38" height="15" fill="#cfcfcf" fill-opacity="0.66"/>
<line x1="320.4" y1="567" x2="320.4" y2="582" class="be"/>
<line x1="394" y1="567" x2="394" y2="582" class="be"/>
</svg></body></html>
